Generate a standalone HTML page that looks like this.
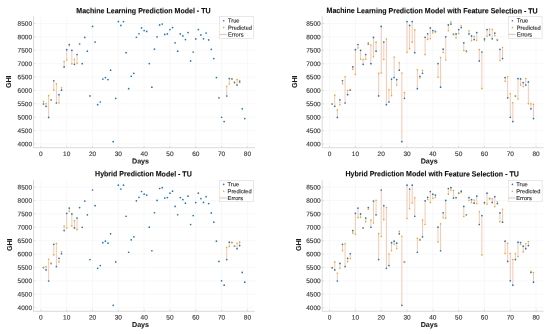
<!DOCTYPE html>
<html><head><meta charset="utf-8"><title>GHI prediction</title>
<style>
html,body{margin:0;padding:0;background:#fff;}
svg{display:block}
text{font-family:"Liberation Sans",sans-serif;text-rendering:geometricPrecision;}
.tk{font-size:6.5px;fill:#3a3a3a;stroke:#3a3a3a;stroke-width:0.14px;}
.tt{font-size:7.05px;font-weight:bold;fill:#111;stroke:#111;stroke-width:0.12px;}
.lb{font-size:7.15px;font-weight:bold;fill:#1c1c1c;stroke:#1c1c1c;stroke-width:0.1px;}
.lg{font-size:5.7px;fill:#2a2a2a;stroke:#2a2a2a;stroke-width:0.12px;}
</style></head><body>
<svg width="550" height="334" viewBox="0 0 550 334">
<rect width="550" height="334" fill="#fff"/>
<line x1="40.90" y1="16.20" x2="40.90" y2="147.70" stroke="#f3f3f3" stroke-width="0.6"/>
<line x1="66.71" y1="16.20" x2="66.71" y2="147.70" stroke="#f3f3f3" stroke-width="0.6"/>
<line x1="92.52" y1="16.20" x2="92.52" y2="147.70" stroke="#f3f3f3" stroke-width="0.6"/>
<line x1="118.33" y1="16.20" x2="118.33" y2="147.70" stroke="#f3f3f3" stroke-width="0.6"/>
<line x1="144.14" y1="16.20" x2="144.14" y2="147.70" stroke="#f3f3f3" stroke-width="0.6"/>
<line x1="169.95" y1="16.20" x2="169.95" y2="147.70" stroke="#f3f3f3" stroke-width="0.6"/>
<line x1="195.76" y1="16.20" x2="195.76" y2="147.70" stroke="#f3f3f3" stroke-width="0.6"/>
<line x1="221.57" y1="16.20" x2="221.57" y2="147.70" stroke="#f3f3f3" stroke-width="0.6"/>
<line x1="247.38" y1="16.20" x2="247.38" y2="147.70" stroke="#f3f3f3" stroke-width="0.6"/>
<line x1="33.50" y1="144.01" x2="254.90" y2="144.01" stroke="#f3f3f3" stroke-width="0.6"/>
<line x1="33.50" y1="130.62" x2="254.90" y2="130.62" stroke="#f3f3f3" stroke-width="0.6"/>
<line x1="33.50" y1="117.23" x2="254.90" y2="117.23" stroke="#f3f3f3" stroke-width="0.6"/>
<line x1="33.50" y1="103.84" x2="254.90" y2="103.84" stroke="#f3f3f3" stroke-width="0.6"/>
<line x1="33.50" y1="90.45" x2="254.90" y2="90.45" stroke="#f3f3f3" stroke-width="0.6"/>
<line x1="33.50" y1="77.06" x2="254.90" y2="77.06" stroke="#f3f3f3" stroke-width="0.6"/>
<line x1="33.50" y1="63.67" x2="254.90" y2="63.67" stroke="#f3f3f3" stroke-width="0.6"/>
<line x1="33.50" y1="50.28" x2="254.90" y2="50.28" stroke="#f3f3f3" stroke-width="0.6"/>
<line x1="33.50" y1="36.89" x2="254.90" y2="36.89" stroke="#f3f3f3" stroke-width="0.6"/>
<line x1="33.50" y1="23.50" x2="254.90" y2="23.50" stroke="#f3f3f3" stroke-width="0.6"/>
<path d="M33.50 16.20V147.70H254.90" fill="none" stroke="#cbcbcb" stroke-width="0.7"/>
<line x1="40.90" y1="147.70" x2="40.90" y2="145.90" stroke="#cbcbcb" stroke-width="0.6"/>
<text transform="translate(40.90,156.00) rotate(0.1)" text-anchor="middle" class="tk">0</text>
<line x1="66.71" y1="147.70" x2="66.71" y2="145.90" stroke="#cbcbcb" stroke-width="0.6"/>
<text transform="translate(66.71,156.00) rotate(0.1)" text-anchor="middle" class="tk">10</text>
<line x1="92.52" y1="147.70" x2="92.52" y2="145.90" stroke="#cbcbcb" stroke-width="0.6"/>
<text transform="translate(92.52,156.00) rotate(0.1)" text-anchor="middle" class="tk">20</text>
<line x1="118.33" y1="147.70" x2="118.33" y2="145.90" stroke="#cbcbcb" stroke-width="0.6"/>
<text transform="translate(118.33,156.00) rotate(0.1)" text-anchor="middle" class="tk">30</text>
<line x1="144.14" y1="147.70" x2="144.14" y2="145.90" stroke="#cbcbcb" stroke-width="0.6"/>
<text transform="translate(144.14,156.00) rotate(0.1)" text-anchor="middle" class="tk">40</text>
<line x1="169.95" y1="147.70" x2="169.95" y2="145.90" stroke="#cbcbcb" stroke-width="0.6"/>
<text transform="translate(169.95,156.00) rotate(0.1)" text-anchor="middle" class="tk">50</text>
<line x1="195.76" y1="147.70" x2="195.76" y2="145.90" stroke="#cbcbcb" stroke-width="0.6"/>
<text transform="translate(195.76,156.00) rotate(0.1)" text-anchor="middle" class="tk">60</text>
<line x1="221.57" y1="147.70" x2="221.57" y2="145.90" stroke="#cbcbcb" stroke-width="0.6"/>
<text transform="translate(221.57,156.00) rotate(0.1)" text-anchor="middle" class="tk">70</text>
<line x1="247.38" y1="147.70" x2="247.38" y2="145.90" stroke="#cbcbcb" stroke-width="0.6"/>
<text transform="translate(247.38,156.00) rotate(0.1)" text-anchor="middle" class="tk">80</text>
<line x1="33.50" y1="144.01" x2="35.30" y2="144.01" stroke="#cbcbcb" stroke-width="0.6"/>
<text transform="translate(32.00,146.31) rotate(0.1)" text-anchor="end" class="tk">4000</text>
<line x1="33.50" y1="130.62" x2="35.30" y2="130.62" stroke="#cbcbcb" stroke-width="0.6"/>
<text transform="translate(32.00,132.92) rotate(0.1)" text-anchor="end" class="tk">4500</text>
<line x1="33.50" y1="117.23" x2="35.30" y2="117.23" stroke="#cbcbcb" stroke-width="0.6"/>
<text transform="translate(32.00,119.53) rotate(0.1)" text-anchor="end" class="tk">5000</text>
<line x1="33.50" y1="103.84" x2="35.30" y2="103.84" stroke="#cbcbcb" stroke-width="0.6"/>
<text transform="translate(32.00,106.14) rotate(0.1)" text-anchor="end" class="tk">5500</text>
<line x1="33.50" y1="90.45" x2="35.30" y2="90.45" stroke="#cbcbcb" stroke-width="0.6"/>
<text transform="translate(32.00,92.75) rotate(0.1)" text-anchor="end" class="tk">6000</text>
<line x1="33.50" y1="77.06" x2="35.30" y2="77.06" stroke="#cbcbcb" stroke-width="0.6"/>
<text transform="translate(32.00,79.36) rotate(0.1)" text-anchor="end" class="tk">6500</text>
<line x1="33.50" y1="63.67" x2="35.30" y2="63.67" stroke="#cbcbcb" stroke-width="0.6"/>
<text transform="translate(32.00,65.97) rotate(0.1)" text-anchor="end" class="tk">7000</text>
<line x1="33.50" y1="50.28" x2="35.30" y2="50.28" stroke="#cbcbcb" stroke-width="0.6"/>
<text transform="translate(32.00,52.58) rotate(0.1)" text-anchor="end" class="tk">7500</text>
<line x1="33.50" y1="36.89" x2="35.30" y2="36.89" stroke="#cbcbcb" stroke-width="0.6"/>
<text transform="translate(32.00,39.19) rotate(0.1)" text-anchor="end" class="tk">8000</text>
<line x1="33.50" y1="23.50" x2="35.30" y2="23.50" stroke="#cbcbcb" stroke-width="0.6"/>
<text transform="translate(32.00,25.80) rotate(0.1)" text-anchor="end" class="tk">8500</text>
<line x1="43.48" y1="104.00" x2="43.48" y2="101.48" stroke="#f6c8b3" stroke-width="1"/>
<line x1="46.06" y1="106.36" x2="46.06" y2="103.49" stroke="#f6c8b3" stroke-width="1"/>
<line x1="48.64" y1="117.39" x2="48.64" y2="95.65" stroke="#f6c8b3" stroke-width="1"/>
<line x1="51.22" y1="99.82" x2="51.22" y2="100.09" stroke="#f6c8b3" stroke-width="1"/>
<line x1="53.80" y1="80.76" x2="53.80" y2="90.13" stroke="#f6c8b3" stroke-width="1"/>
<line x1="56.39" y1="103.01" x2="56.39" y2="83.75" stroke="#f6c8b3" stroke-width="1"/>
<line x1="58.97" y1="94.63" x2="58.97" y2="103.01" stroke="#f6c8b3" stroke-width="1"/>
<line x1="61.55" y1="90.13" x2="61.55" y2="87.77" stroke="#f6c8b3" stroke-width="1"/>
<line x1="64.13" y1="66.94" x2="64.13" y2="61.61" stroke="#f6c8b3" stroke-width="1"/>
<line x1="66.71" y1="49.69" x2="66.71" y2="60.00" stroke="#f6c8b3" stroke-width="1"/>
<line x1="69.29" y1="44.50" x2="69.29" y2="45.81" stroke="#f6c8b3" stroke-width="1"/>
<line x1="71.87" y1="50.31" x2="71.87" y2="63.91" stroke="#f6c8b3" stroke-width="1"/>
<line x1="74.45" y1="64.34" x2="74.45" y2="59.20" stroke="#f6c8b3" stroke-width="1"/>
<line x1="77.03" y1="54.51" x2="77.03" y2="63.40" stroke="#f6c8b3" stroke-width="1"/>
<line x1="226.73" y1="95.99" x2="226.73" y2="86.27" stroke="#f6c8b3" stroke-width="1"/>
<line x1="229.31" y1="78.59" x2="229.31" y2="83.94" stroke="#f6c8b3" stroke-width="1"/>
<line x1="231.89" y1="78.91" x2="231.89" y2="79.42" stroke="#f6c8b3" stroke-width="1"/>
<line x1="234.47" y1="82.60" x2="234.47" y2="81.75" stroke="#f6c8b3" stroke-width="1"/>
<line x1="237.06" y1="85.12" x2="237.06" y2="79.58" stroke="#f6c8b3" stroke-width="1"/>
<line x1="239.64" y1="81.93" x2="239.64" y2="80.43" stroke="#f6c8b3" stroke-width="1"/>
<circle cx="43.48" cy="104.00" r="0.85" fill="#1877c9"/>
<circle cx="46.06" cy="106.36" r="0.85" fill="#1877c9"/>
<circle cx="48.64" cy="117.39" r="0.85" fill="#1877c9"/>
<circle cx="51.22" cy="99.82" r="0.85" fill="#1877c9"/>
<circle cx="53.80" cy="80.76" r="0.85" fill="#1877c9"/>
<circle cx="56.39" cy="103.01" r="0.85" fill="#1877c9"/>
<circle cx="58.97" cy="94.63" r="0.85" fill="#1877c9"/>
<circle cx="61.55" cy="90.13" r="0.85" fill="#1877c9"/>
<circle cx="64.13" cy="66.94" r="0.85" fill="#1877c9"/>
<circle cx="66.71" cy="49.69" r="0.85" fill="#1877c9"/>
<circle cx="69.29" cy="44.50" r="0.85" fill="#1877c9"/>
<circle cx="71.87" cy="50.31" r="0.85" fill="#1877c9"/>
<circle cx="74.45" cy="64.34" r="0.85" fill="#1877c9"/>
<circle cx="77.03" cy="54.51" r="0.85" fill="#1877c9"/>
<circle cx="79.61" cy="43.99" r="0.85" fill="#1877c9"/>
<circle cx="82.20" cy="63.67" r="0.85" fill="#1877c9"/>
<circle cx="84.78" cy="37.45" r="0.85" fill="#1877c9"/>
<circle cx="87.36" cy="51.19" r="0.85" fill="#1877c9"/>
<circle cx="89.94" cy="95.97" r="0.85" fill="#1877c9"/>
<circle cx="92.52" cy="26.39" r="0.85" fill="#1877c9"/>
<circle cx="95.10" cy="42.11" r="0.85" fill="#1877c9"/>
<circle cx="97.68" cy="104.67" r="0.85" fill="#1877c9"/>
<circle cx="100.26" cy="101.99" r="0.85" fill="#1877c9"/>
<circle cx="102.84" cy="79.07" r="0.85" fill="#1877c9"/>
<circle cx="105.43" cy="77.57" r="0.85" fill="#1877c9"/>
<circle cx="108.01" cy="79.58" r="0.85" fill="#1877c9"/>
<circle cx="110.59" cy="70.20" r="0.85" fill="#1877c9"/>
<circle cx="113.17" cy="141.68" r="0.85" fill="#1877c9"/>
<circle cx="115.75" cy="98.32" r="0.85" fill="#1877c9"/>
<circle cx="118.33" cy="21.55" r="0.85" fill="#1877c9"/>
<circle cx="120.91" cy="25.40" r="0.85" fill="#1877c9"/>
<circle cx="123.49" cy="21.55" r="0.85" fill="#1877c9"/>
<circle cx="126.07" cy="52.66" r="0.85" fill="#1877c9"/>
<circle cx="128.65" cy="88.63" r="0.85" fill="#1877c9"/>
<circle cx="131.23" cy="76.23" r="0.85" fill="#1877c9"/>
<circle cx="133.82" cy="73.23" r="0.85" fill="#1877c9"/>
<circle cx="136.40" cy="37.26" r="0.85" fill="#1877c9"/>
<circle cx="138.98" cy="33.76" r="0.85" fill="#1877c9"/>
<circle cx="141.56" cy="27.89" r="0.85" fill="#1877c9"/>
<circle cx="144.14" cy="30.57" r="0.85" fill="#1877c9"/>
<circle cx="146.72" cy="31.43" r="0.85" fill="#1877c9"/>
<circle cx="149.30" cy="63.54" r="0.85" fill="#1877c9"/>
<circle cx="151.88" cy="87.13" r="0.85" fill="#1877c9"/>
<circle cx="154.46" cy="49.16" r="0.85" fill="#1877c9"/>
<circle cx="157.04" cy="36.78" r="0.85" fill="#1877c9"/>
<circle cx="159.63" cy="24.89" r="0.85" fill="#1877c9"/>
<circle cx="162.21" cy="24.06" r="0.85" fill="#1877c9"/>
<circle cx="164.79" cy="34.43" r="0.85" fill="#1877c9"/>
<circle cx="167.37" cy="33.94" r="0.85" fill="#1877c9"/>
<circle cx="169.95" cy="29.58" r="0.85" fill="#1877c9"/>
<circle cx="172.53" cy="27.57" r="0.85" fill="#1877c9"/>
<circle cx="175.11" cy="42.81" r="0.85" fill="#1877c9"/>
<circle cx="177.69" cy="51.16" r="0.85" fill="#1877c9"/>
<circle cx="180.27" cy="33.94" r="0.85" fill="#1877c9"/>
<circle cx="182.85" cy="35.93" r="0.85" fill="#1877c9"/>
<circle cx="185.44" cy="39.62" r="0.85" fill="#1877c9"/>
<circle cx="188.02" cy="32.58" r="0.85" fill="#1877c9"/>
<circle cx="190.60" cy="60.88" r="0.85" fill="#1877c9"/>
<circle cx="193.18" cy="51.99" r="0.85" fill="#1877c9"/>
<circle cx="195.76" cy="38.95" r="0.85" fill="#1877c9"/>
<circle cx="198.34" cy="29.58" r="0.85" fill="#1877c9"/>
<circle cx="200.92" cy="34.94" r="0.85" fill="#1877c9"/>
<circle cx="203.50" cy="38.79" r="0.85" fill="#1877c9"/>
<circle cx="206.08" cy="33.09" r="0.85" fill="#1877c9"/>
<circle cx="208.66" cy="39.94" r="0.85" fill="#1877c9"/>
<circle cx="211.25" cy="49.32" r="0.85" fill="#1877c9"/>
<circle cx="213.83" cy="58.53" r="0.85" fill="#1877c9"/>
<circle cx="216.41" cy="77.57" r="0.85" fill="#1877c9"/>
<circle cx="218.99" cy="97.84" r="0.85" fill="#1877c9"/>
<circle cx="221.57" cy="117.26" r="0.85" fill="#1877c9"/>
<circle cx="224.15" cy="121.62" r="0.85" fill="#1877c9"/>
<circle cx="226.73" cy="95.99" r="0.85" fill="#1877c9"/>
<circle cx="229.31" cy="78.59" r="0.85" fill="#1877c9"/>
<circle cx="231.89" cy="78.91" r="0.85" fill="#1877c9"/>
<circle cx="234.47" cy="82.60" r="0.85" fill="#1877c9"/>
<circle cx="237.06" cy="85.12" r="0.85" fill="#1877c9"/>
<circle cx="239.64" cy="81.93" r="0.85" fill="#1877c9"/>
<circle cx="242.22" cy="108.79" r="0.85" fill="#1877c9"/>
<circle cx="244.80" cy="118.60" r="0.85" fill="#1877c9"/>
<circle cx="43.48" cy="101.48" r="0.8" fill="#f0a51e"/>
<circle cx="46.06" cy="103.49" r="0.8" fill="#f0a51e"/>
<circle cx="48.64" cy="95.65" r="0.8" fill="#f0a51e"/>
<circle cx="51.22" cy="100.09" r="0.8" fill="#f0a51e"/>
<circle cx="53.80" cy="90.13" r="0.8" fill="#f0a51e"/>
<circle cx="56.39" cy="83.75" r="0.8" fill="#f0a51e"/>
<circle cx="58.97" cy="103.01" r="0.8" fill="#f0a51e"/>
<circle cx="61.55" cy="87.77" r="0.8" fill="#f0a51e"/>
<circle cx="64.13" cy="61.61" r="0.8" fill="#f0a51e"/>
<circle cx="66.71" cy="60.00" r="0.8" fill="#f0a51e"/>
<circle cx="69.29" cy="45.81" r="0.8" fill="#f0a51e"/>
<circle cx="71.87" cy="63.91" r="0.8" fill="#f0a51e"/>
<circle cx="74.45" cy="59.20" r="0.8" fill="#f0a51e"/>
<circle cx="77.03" cy="63.40" r="0.8" fill="#f0a51e"/>
<circle cx="226.73" cy="86.27" r="0.8" fill="#f0a51e"/>
<circle cx="229.31" cy="83.94" r="0.8" fill="#f0a51e"/>
<circle cx="231.89" cy="79.42" r="0.8" fill="#f0a51e"/>
<circle cx="234.47" cy="81.75" r="0.8" fill="#f0a51e"/>
<circle cx="237.06" cy="79.58" r="0.8" fill="#f0a51e"/>
<circle cx="239.64" cy="80.43" r="0.8" fill="#f0a51e"/>
<text transform="translate(143.40,13.25) rotate(0.1) scale(1,1.07)" text-anchor="middle" class="tt">Machine Learning Prediction Model - TU</text>
<text transform="translate(140.50,163.60) rotate(0.1)" text-anchor="middle" class="lb">Days</text>
<text transform="translate(10.50,81.75) rotate(-90)" text-anchor="middle" class="lb">GHI</text>
<rect x="219.60" y="16.40" width="33.80" height="22.20" fill="#fff" stroke="#d9d9d9" stroke-width="0.6"/>
<circle cx="223.70" cy="20.80" r="0.8" fill="#1877c9"/>
<circle cx="223.70" cy="27.60" r="0.8" fill="#f0a51e"/>
<line x1="219.90" y1="34.40" x2="226.70" y2="34.40" stroke="#f0a898" stroke-width="0.8"/>
<text transform="translate(228.00,22.60) rotate(0.1)" class="lg">True</text>
<text transform="translate(228.00,29.70) rotate(0.1)" class="lg">Predicted</text>
<text transform="translate(228.00,36.50) rotate(0.1)" class="lg">Errors</text>
<line x1="329.60" y1="16.20" x2="329.60" y2="147.70" stroke="#f3f3f3" stroke-width="0.6"/>
<line x1="355.41" y1="16.20" x2="355.41" y2="147.70" stroke="#f3f3f3" stroke-width="0.6"/>
<line x1="381.22" y1="16.20" x2="381.22" y2="147.70" stroke="#f3f3f3" stroke-width="0.6"/>
<line x1="407.03" y1="16.20" x2="407.03" y2="147.70" stroke="#f3f3f3" stroke-width="0.6"/>
<line x1="432.84" y1="16.20" x2="432.84" y2="147.70" stroke="#f3f3f3" stroke-width="0.6"/>
<line x1="458.65" y1="16.20" x2="458.65" y2="147.70" stroke="#f3f3f3" stroke-width="0.6"/>
<line x1="484.46" y1="16.20" x2="484.46" y2="147.70" stroke="#f3f3f3" stroke-width="0.6"/>
<line x1="510.27" y1="16.20" x2="510.27" y2="147.70" stroke="#f3f3f3" stroke-width="0.6"/>
<line x1="536.08" y1="16.20" x2="536.08" y2="147.70" stroke="#f3f3f3" stroke-width="0.6"/>
<line x1="322.20" y1="144.01" x2="543.60" y2="144.01" stroke="#f3f3f3" stroke-width="0.6"/>
<line x1="322.20" y1="130.62" x2="543.60" y2="130.62" stroke="#f3f3f3" stroke-width="0.6"/>
<line x1="322.20" y1="117.23" x2="543.60" y2="117.23" stroke="#f3f3f3" stroke-width="0.6"/>
<line x1="322.20" y1="103.84" x2="543.60" y2="103.84" stroke="#f3f3f3" stroke-width="0.6"/>
<line x1="322.20" y1="90.45" x2="543.60" y2="90.45" stroke="#f3f3f3" stroke-width="0.6"/>
<line x1="322.20" y1="77.06" x2="543.60" y2="77.06" stroke="#f3f3f3" stroke-width="0.6"/>
<line x1="322.20" y1="63.67" x2="543.60" y2="63.67" stroke="#f3f3f3" stroke-width="0.6"/>
<line x1="322.20" y1="50.28" x2="543.60" y2="50.28" stroke="#f3f3f3" stroke-width="0.6"/>
<line x1="322.20" y1="36.89" x2="543.60" y2="36.89" stroke="#f3f3f3" stroke-width="0.6"/>
<line x1="322.20" y1="23.50" x2="543.60" y2="23.50" stroke="#f3f3f3" stroke-width="0.6"/>
<path d="M322.20 16.20V147.70H543.60" fill="none" stroke="#cbcbcb" stroke-width="0.7"/>
<line x1="329.60" y1="147.70" x2="329.60" y2="145.90" stroke="#cbcbcb" stroke-width="0.6"/>
<text transform="translate(329.60,156.00) rotate(0.1)" text-anchor="middle" class="tk">0</text>
<line x1="355.41" y1="147.70" x2="355.41" y2="145.90" stroke="#cbcbcb" stroke-width="0.6"/>
<text transform="translate(355.41,156.00) rotate(0.1)" text-anchor="middle" class="tk">10</text>
<line x1="381.22" y1="147.70" x2="381.22" y2="145.90" stroke="#cbcbcb" stroke-width="0.6"/>
<text transform="translate(381.22,156.00) rotate(0.1)" text-anchor="middle" class="tk">20</text>
<line x1="407.03" y1="147.70" x2="407.03" y2="145.90" stroke="#cbcbcb" stroke-width="0.6"/>
<text transform="translate(407.03,156.00) rotate(0.1)" text-anchor="middle" class="tk">30</text>
<line x1="432.84" y1="147.70" x2="432.84" y2="145.90" stroke="#cbcbcb" stroke-width="0.6"/>
<text transform="translate(432.84,156.00) rotate(0.1)" text-anchor="middle" class="tk">40</text>
<line x1="458.65" y1="147.70" x2="458.65" y2="145.90" stroke="#cbcbcb" stroke-width="0.6"/>
<text transform="translate(458.65,156.00) rotate(0.1)" text-anchor="middle" class="tk">50</text>
<line x1="484.46" y1="147.70" x2="484.46" y2="145.90" stroke="#cbcbcb" stroke-width="0.6"/>
<text transform="translate(484.46,156.00) rotate(0.1)" text-anchor="middle" class="tk">60</text>
<line x1="510.27" y1="147.70" x2="510.27" y2="145.90" stroke="#cbcbcb" stroke-width="0.6"/>
<text transform="translate(510.27,156.00) rotate(0.1)" text-anchor="middle" class="tk">70</text>
<line x1="536.08" y1="147.70" x2="536.08" y2="145.90" stroke="#cbcbcb" stroke-width="0.6"/>
<text transform="translate(536.08,156.00) rotate(0.1)" text-anchor="middle" class="tk">80</text>
<line x1="322.20" y1="144.01" x2="324.00" y2="144.01" stroke="#cbcbcb" stroke-width="0.6"/>
<text transform="translate(320.70,146.31) rotate(0.1)" text-anchor="end" class="tk">4000</text>
<line x1="322.20" y1="130.62" x2="324.00" y2="130.62" stroke="#cbcbcb" stroke-width="0.6"/>
<text transform="translate(320.70,132.92) rotate(0.1)" text-anchor="end" class="tk">4500</text>
<line x1="322.20" y1="117.23" x2="324.00" y2="117.23" stroke="#cbcbcb" stroke-width="0.6"/>
<text transform="translate(320.70,119.53) rotate(0.1)" text-anchor="end" class="tk">5000</text>
<line x1="322.20" y1="103.84" x2="324.00" y2="103.84" stroke="#cbcbcb" stroke-width="0.6"/>
<text transform="translate(320.70,106.14) rotate(0.1)" text-anchor="end" class="tk">5500</text>
<line x1="322.20" y1="90.45" x2="324.00" y2="90.45" stroke="#cbcbcb" stroke-width="0.6"/>
<text transform="translate(320.70,92.75) rotate(0.1)" text-anchor="end" class="tk">6000</text>
<line x1="322.20" y1="77.06" x2="324.00" y2="77.06" stroke="#cbcbcb" stroke-width="0.6"/>
<text transform="translate(320.70,79.36) rotate(0.1)" text-anchor="end" class="tk">6500</text>
<line x1="322.20" y1="63.67" x2="324.00" y2="63.67" stroke="#cbcbcb" stroke-width="0.6"/>
<text transform="translate(320.70,65.97) rotate(0.1)" text-anchor="end" class="tk">7000</text>
<line x1="322.20" y1="50.28" x2="324.00" y2="50.28" stroke="#cbcbcb" stroke-width="0.6"/>
<text transform="translate(320.70,52.58) rotate(0.1)" text-anchor="end" class="tk">7500</text>
<line x1="322.20" y1="36.89" x2="324.00" y2="36.89" stroke="#cbcbcb" stroke-width="0.6"/>
<text transform="translate(320.70,39.19) rotate(0.1)" text-anchor="end" class="tk">8000</text>
<line x1="322.20" y1="23.50" x2="324.00" y2="23.50" stroke="#cbcbcb" stroke-width="0.6"/>
<text transform="translate(320.70,25.80) rotate(0.1)" text-anchor="end" class="tk">8500</text>
<line x1="332.18" y1="104.00" x2="332.18" y2="103.84" stroke="#f6c8b3" stroke-width="1"/>
<line x1="334.76" y1="106.36" x2="334.76" y2="95.16" stroke="#f6c8b3" stroke-width="1"/>
<line x1="337.34" y1="117.39" x2="337.34" y2="109.89" stroke="#f6c8b3" stroke-width="1"/>
<line x1="339.92" y1="99.82" x2="339.92" y2="104.86" stroke="#f6c8b3" stroke-width="1"/>
<line x1="342.50" y1="80.76" x2="342.50" y2="83.78" stroke="#f6c8b3" stroke-width="1"/>
<line x1="345.09" y1="103.01" x2="345.09" y2="76.74" stroke="#f6c8b3" stroke-width="1"/>
<line x1="347.67" y1="94.63" x2="347.67" y2="90.48" stroke="#f6c8b3" stroke-width="1"/>
<line x1="350.25" y1="90.13" x2="350.25" y2="89.65" stroke="#f6c8b3" stroke-width="1"/>
<line x1="352.83" y1="66.94" x2="352.83" y2="69.56" stroke="#f6c8b3" stroke-width="1"/>
<line x1="355.41" y1="49.69" x2="355.41" y2="74.41" stroke="#f6c8b3" stroke-width="1"/>
<line x1="357.99" y1="44.50" x2="357.99" y2="47.98" stroke="#f6c8b3" stroke-width="1"/>
<line x1="360.57" y1="50.31" x2="360.57" y2="59.20" stroke="#f6c8b3" stroke-width="1"/>
<line x1="363.15" y1="64.34" x2="363.15" y2="59.55" stroke="#f6c8b3" stroke-width="1"/>
<line x1="365.73" y1="54.51" x2="365.73" y2="59.20" stroke="#f6c8b3" stroke-width="1"/>
<line x1="368.31" y1="43.99" x2="368.31" y2="42.81" stroke="#f6c8b3" stroke-width="1"/>
<line x1="370.90" y1="63.67" x2="370.90" y2="44.98" stroke="#f6c8b3" stroke-width="1"/>
<line x1="373.48" y1="37.45" x2="373.48" y2="56.71" stroke="#f6c8b3" stroke-width="1"/>
<line x1="376.06" y1="51.19" x2="376.06" y2="42.14" stroke="#f6c8b3" stroke-width="1"/>
<line x1="378.64" y1="95.97" x2="378.64" y2="73.39" stroke="#f6c8b3" stroke-width="1"/>
<line x1="381.22" y1="26.39" x2="381.22" y2="73.07" stroke="#f6c8b3" stroke-width="1"/>
<line x1="383.80" y1="42.11" x2="383.80" y2="59.55" stroke="#f6c8b3" stroke-width="1"/>
<line x1="386.38" y1="104.67" x2="386.38" y2="39.11" stroke="#f6c8b3" stroke-width="1"/>
<line x1="388.96" y1="101.99" x2="388.96" y2="89.81" stroke="#f6c8b3" stroke-width="1"/>
<line x1="391.54" y1="79.07" x2="391.54" y2="95.65" stroke="#f6c8b3" stroke-width="1"/>
<line x1="394.12" y1="77.57" x2="394.12" y2="57.03" stroke="#f6c8b3" stroke-width="1"/>
<line x1="396.71" y1="79.58" x2="396.71" y2="85.12" stroke="#f6c8b3" stroke-width="1"/>
<line x1="399.29" y1="70.20" x2="399.29" y2="62.71" stroke="#f6c8b3" stroke-width="1"/>
<line x1="401.87" y1="141.68" x2="401.87" y2="73.07" stroke="#f6c8b3" stroke-width="1"/>
<line x1="404.45" y1="98.32" x2="404.45" y2="92.65" stroke="#f6c8b3" stroke-width="1"/>
<line x1="407.03" y1="21.55" x2="407.03" y2="52.34" stroke="#f6c8b3" stroke-width="1"/>
<line x1="409.61" y1="25.40" x2="409.61" y2="48.65" stroke="#f6c8b3" stroke-width="1"/>
<line x1="412.19" y1="21.55" x2="412.19" y2="42.14" stroke="#f6c8b3" stroke-width="1"/>
<line x1="414.77" y1="52.66" x2="414.77" y2="29.90" stroke="#f6c8b3" stroke-width="1"/>
<line x1="417.35" y1="88.63" x2="417.35" y2="69.83" stroke="#f6c8b3" stroke-width="1"/>
<line x1="419.93" y1="76.23" x2="419.93" y2="77.92" stroke="#f6c8b3" stroke-width="1"/>
<line x1="422.52" y1="73.23" x2="422.52" y2="70.39" stroke="#f6c8b3" stroke-width="1"/>
<line x1="425.10" y1="37.26" x2="425.10" y2="54.67" stroke="#f6c8b3" stroke-width="1"/>
<line x1="427.68" y1="33.76" x2="427.68" y2="39.46" stroke="#f6c8b3" stroke-width="1"/>
<line x1="430.26" y1="27.89" x2="430.26" y2="38.79" stroke="#f6c8b3" stroke-width="1"/>
<line x1="432.84" y1="30.57" x2="432.84" y2="32.93" stroke="#f6c8b3" stroke-width="1"/>
<line x1="435.42" y1="31.43" x2="435.42" y2="32.10" stroke="#f6c8b3" stroke-width="1"/>
<line x1="438.00" y1="63.54" x2="438.00" y2="77.25" stroke="#f6c8b3" stroke-width="1"/>
<line x1="440.58" y1="87.13" x2="440.58" y2="57.54" stroke="#f6c8b3" stroke-width="1"/>
<line x1="443.16" y1="49.16" x2="443.16" y2="52.50" stroke="#f6c8b3" stroke-width="1"/>
<line x1="445.74" y1="36.78" x2="445.74" y2="60.03" stroke="#f6c8b3" stroke-width="1"/>
<line x1="448.33" y1="24.89" x2="448.33" y2="30.76" stroke="#f6c8b3" stroke-width="1"/>
<line x1="450.91" y1="24.06" x2="450.91" y2="21.87" stroke="#f6c8b3" stroke-width="1"/>
<line x1="453.49" y1="34.43" x2="453.49" y2="34.10" stroke="#f6c8b3" stroke-width="1"/>
<line x1="456.07" y1="33.94" x2="456.07" y2="37.93" stroke="#f6c8b3" stroke-width="1"/>
<line x1="458.65" y1="29.58" x2="458.65" y2="33.60" stroke="#f6c8b3" stroke-width="1"/>
<line x1="461.23" y1="27.57" x2="461.23" y2="25.72" stroke="#f6c8b3" stroke-width="1"/>
<line x1="463.81" y1="42.81" x2="463.81" y2="50.49" stroke="#f6c8b3" stroke-width="1"/>
<line x1="466.39" y1="51.16" x2="466.39" y2="51.83" stroke="#f6c8b3" stroke-width="1"/>
<line x1="468.97" y1="33.94" x2="468.97" y2="30.76" stroke="#f6c8b3" stroke-width="1"/>
<line x1="471.55" y1="35.93" x2="471.55" y2="40.80" stroke="#f6c8b3" stroke-width="1"/>
<line x1="474.14" y1="39.62" x2="474.14" y2="36.60" stroke="#f6c8b3" stroke-width="1"/>
<line x1="476.72" y1="32.58" x2="476.72" y2="40.29" stroke="#f6c8b3" stroke-width="1"/>
<line x1="479.30" y1="60.88" x2="479.30" y2="49.66" stroke="#f6c8b3" stroke-width="1"/>
<line x1="481.88" y1="51.99" x2="481.88" y2="88.63" stroke="#f6c8b3" stroke-width="1"/>
<line x1="484.46" y1="38.95" x2="484.46" y2="40.80" stroke="#f6c8b3" stroke-width="1"/>
<line x1="487.04" y1="29.58" x2="487.04" y2="36.27" stroke="#f6c8b3" stroke-width="1"/>
<line x1="489.62" y1="34.94" x2="489.62" y2="29.07" stroke="#f6c8b3" stroke-width="1"/>
<line x1="492.20" y1="38.79" x2="492.20" y2="29.58" stroke="#f6c8b3" stroke-width="1"/>
<line x1="494.78" y1="33.09" x2="494.78" y2="35.77" stroke="#f6c8b3" stroke-width="1"/>
<line x1="497.36" y1="39.94" x2="497.36" y2="39.46" stroke="#f6c8b3" stroke-width="1"/>
<line x1="499.95" y1="49.32" x2="499.95" y2="60.54" stroke="#f6c8b3" stroke-width="1"/>
<line x1="502.53" y1="58.53" x2="502.53" y2="47.49" stroke="#f6c8b3" stroke-width="1"/>
<line x1="505.11" y1="77.57" x2="505.11" y2="81.26" stroke="#f6c8b3" stroke-width="1"/>
<line x1="507.69" y1="97.84" x2="507.69" y2="76.74" stroke="#f6c8b3" stroke-width="1"/>
<line x1="510.27" y1="117.26" x2="510.27" y2="93.82" stroke="#f6c8b3" stroke-width="1"/>
<line x1="512.85" y1="121.62" x2="512.85" y2="102.69" stroke="#f6c8b3" stroke-width="1"/>
<line x1="515.43" y1="95.99" x2="515.43" y2="95.81" stroke="#f6c8b3" stroke-width="1"/>
<line x1="518.01" y1="78.59" x2="518.01" y2="98.99" stroke="#f6c8b3" stroke-width="1"/>
<line x1="520.59" y1="78.91" x2="520.59" y2="85.12" stroke="#f6c8b3" stroke-width="1"/>
<line x1="523.17" y1="82.60" x2="523.17" y2="86.78" stroke="#f6c8b3" stroke-width="1"/>
<line x1="525.76" y1="85.12" x2="525.76" y2="78.43" stroke="#f6c8b3" stroke-width="1"/>
<line x1="528.34" y1="81.93" x2="528.34" y2="103.87" stroke="#f6c8b3" stroke-width="1"/>
<line x1="530.92" y1="108.79" x2="530.92" y2="103.87" stroke="#f6c8b3" stroke-width="1"/>
<line x1="533.50" y1="118.60" x2="533.50" y2="104.35" stroke="#f6c8b3" stroke-width="1"/>
<circle cx="332.18" cy="104.00" r="0.85" fill="#1877c9"/>
<circle cx="334.76" cy="106.36" r="0.85" fill="#1877c9"/>
<circle cx="337.34" cy="117.39" r="0.85" fill="#1877c9"/>
<circle cx="339.92" cy="99.82" r="0.85" fill="#1877c9"/>
<circle cx="342.50" cy="80.76" r="0.85" fill="#1877c9"/>
<circle cx="345.09" cy="103.01" r="0.85" fill="#1877c9"/>
<circle cx="347.67" cy="94.63" r="0.85" fill="#1877c9"/>
<circle cx="350.25" cy="90.13" r="0.85" fill="#1877c9"/>
<circle cx="352.83" cy="66.94" r="0.85" fill="#1877c9"/>
<circle cx="355.41" cy="49.69" r="0.85" fill="#1877c9"/>
<circle cx="357.99" cy="44.50" r="0.85" fill="#1877c9"/>
<circle cx="360.57" cy="50.31" r="0.85" fill="#1877c9"/>
<circle cx="363.15" cy="64.34" r="0.85" fill="#1877c9"/>
<circle cx="365.73" cy="54.51" r="0.85" fill="#1877c9"/>
<circle cx="368.31" cy="43.99" r="0.85" fill="#1877c9"/>
<circle cx="370.90" cy="63.67" r="0.85" fill="#1877c9"/>
<circle cx="373.48" cy="37.45" r="0.85" fill="#1877c9"/>
<circle cx="376.06" cy="51.19" r="0.85" fill="#1877c9"/>
<circle cx="378.64" cy="95.97" r="0.85" fill="#1877c9"/>
<circle cx="381.22" cy="26.39" r="0.85" fill="#1877c9"/>
<circle cx="383.80" cy="42.11" r="0.85" fill="#1877c9"/>
<circle cx="386.38" cy="104.67" r="0.85" fill="#1877c9"/>
<circle cx="388.96" cy="101.99" r="0.85" fill="#1877c9"/>
<circle cx="391.54" cy="79.07" r="0.85" fill="#1877c9"/>
<circle cx="394.12" cy="77.57" r="0.85" fill="#1877c9"/>
<circle cx="396.71" cy="79.58" r="0.85" fill="#1877c9"/>
<circle cx="399.29" cy="70.20" r="0.85" fill="#1877c9"/>
<circle cx="401.87" cy="141.68" r="0.85" fill="#1877c9"/>
<circle cx="404.45" cy="98.32" r="0.85" fill="#1877c9"/>
<circle cx="407.03" cy="21.55" r="0.85" fill="#1877c9"/>
<circle cx="409.61" cy="25.40" r="0.85" fill="#1877c9"/>
<circle cx="412.19" cy="21.55" r="0.85" fill="#1877c9"/>
<circle cx="414.77" cy="52.66" r="0.85" fill="#1877c9"/>
<circle cx="417.35" cy="88.63" r="0.85" fill="#1877c9"/>
<circle cx="419.93" cy="76.23" r="0.85" fill="#1877c9"/>
<circle cx="422.52" cy="73.23" r="0.85" fill="#1877c9"/>
<circle cx="425.10" cy="37.26" r="0.85" fill="#1877c9"/>
<circle cx="427.68" cy="33.76" r="0.85" fill="#1877c9"/>
<circle cx="430.26" cy="27.89" r="0.85" fill="#1877c9"/>
<circle cx="432.84" cy="30.57" r="0.85" fill="#1877c9"/>
<circle cx="435.42" cy="31.43" r="0.85" fill="#1877c9"/>
<circle cx="438.00" cy="63.54" r="0.85" fill="#1877c9"/>
<circle cx="440.58" cy="87.13" r="0.85" fill="#1877c9"/>
<circle cx="443.16" cy="49.16" r="0.85" fill="#1877c9"/>
<circle cx="445.74" cy="36.78" r="0.85" fill="#1877c9"/>
<circle cx="448.33" cy="24.89" r="0.85" fill="#1877c9"/>
<circle cx="450.91" cy="24.06" r="0.85" fill="#1877c9"/>
<circle cx="453.49" cy="34.43" r="0.85" fill="#1877c9"/>
<circle cx="456.07" cy="33.94" r="0.85" fill="#1877c9"/>
<circle cx="458.65" cy="29.58" r="0.85" fill="#1877c9"/>
<circle cx="461.23" cy="27.57" r="0.85" fill="#1877c9"/>
<circle cx="463.81" cy="42.81" r="0.85" fill="#1877c9"/>
<circle cx="466.39" cy="51.16" r="0.85" fill="#1877c9"/>
<circle cx="468.97" cy="33.94" r="0.85" fill="#1877c9"/>
<circle cx="471.55" cy="35.93" r="0.85" fill="#1877c9"/>
<circle cx="474.14" cy="39.62" r="0.85" fill="#1877c9"/>
<circle cx="476.72" cy="32.58" r="0.85" fill="#1877c9"/>
<circle cx="479.30" cy="60.88" r="0.85" fill="#1877c9"/>
<circle cx="481.88" cy="51.99" r="0.85" fill="#1877c9"/>
<circle cx="484.46" cy="38.95" r="0.85" fill="#1877c9"/>
<circle cx="487.04" cy="29.58" r="0.85" fill="#1877c9"/>
<circle cx="489.62" cy="34.94" r="0.85" fill="#1877c9"/>
<circle cx="492.20" cy="38.79" r="0.85" fill="#1877c9"/>
<circle cx="494.78" cy="33.09" r="0.85" fill="#1877c9"/>
<circle cx="497.36" cy="39.94" r="0.85" fill="#1877c9"/>
<circle cx="499.95" cy="49.32" r="0.85" fill="#1877c9"/>
<circle cx="502.53" cy="58.53" r="0.85" fill="#1877c9"/>
<circle cx="505.11" cy="77.57" r="0.85" fill="#1877c9"/>
<circle cx="507.69" cy="97.84" r="0.85" fill="#1877c9"/>
<circle cx="510.27" cy="117.26" r="0.85" fill="#1877c9"/>
<circle cx="512.85" cy="121.62" r="0.85" fill="#1877c9"/>
<circle cx="515.43" cy="95.99" r="0.85" fill="#1877c9"/>
<circle cx="518.01" cy="78.59" r="0.85" fill="#1877c9"/>
<circle cx="520.59" cy="78.91" r="0.85" fill="#1877c9"/>
<circle cx="523.17" cy="82.60" r="0.85" fill="#1877c9"/>
<circle cx="525.76" cy="85.12" r="0.85" fill="#1877c9"/>
<circle cx="528.34" cy="81.93" r="0.85" fill="#1877c9"/>
<circle cx="530.92" cy="108.79" r="0.85" fill="#1877c9"/>
<circle cx="533.50" cy="118.60" r="0.85" fill="#1877c9"/>
<circle cx="332.18" cy="103.84" r="0.8" fill="#f0a51e"/>
<circle cx="334.76" cy="95.16" r="0.8" fill="#f0a51e"/>
<circle cx="337.34" cy="109.89" r="0.8" fill="#f0a51e"/>
<circle cx="339.92" cy="104.86" r="0.8" fill="#f0a51e"/>
<circle cx="342.50" cy="83.78" r="0.8" fill="#f0a51e"/>
<circle cx="345.09" cy="76.74" r="0.8" fill="#f0a51e"/>
<circle cx="347.67" cy="90.48" r="0.8" fill="#f0a51e"/>
<circle cx="350.25" cy="89.65" r="0.8" fill="#f0a51e"/>
<circle cx="352.83" cy="69.56" r="0.8" fill="#f0a51e"/>
<circle cx="355.41" cy="74.41" r="0.8" fill="#f0a51e"/>
<circle cx="357.99" cy="47.98" r="0.8" fill="#f0a51e"/>
<circle cx="360.57" cy="59.20" r="0.8" fill="#f0a51e"/>
<circle cx="363.15" cy="59.55" r="0.8" fill="#f0a51e"/>
<circle cx="365.73" cy="59.20" r="0.8" fill="#f0a51e"/>
<circle cx="368.31" cy="42.81" r="0.8" fill="#f0a51e"/>
<circle cx="370.90" cy="44.98" r="0.8" fill="#f0a51e"/>
<circle cx="373.48" cy="56.71" r="0.8" fill="#f0a51e"/>
<circle cx="376.06" cy="42.14" r="0.8" fill="#f0a51e"/>
<circle cx="378.64" cy="73.39" r="0.8" fill="#f0a51e"/>
<circle cx="381.22" cy="73.07" r="0.8" fill="#f0a51e"/>
<circle cx="383.80" cy="59.55" r="0.8" fill="#f0a51e"/>
<circle cx="386.38" cy="39.11" r="0.8" fill="#f0a51e"/>
<circle cx="388.96" cy="89.81" r="0.8" fill="#f0a51e"/>
<circle cx="391.54" cy="95.65" r="0.8" fill="#f0a51e"/>
<circle cx="394.12" cy="57.03" r="0.8" fill="#f0a51e"/>
<circle cx="396.71" cy="85.12" r="0.8" fill="#f0a51e"/>
<circle cx="399.29" cy="62.71" r="0.8" fill="#f0a51e"/>
<circle cx="401.87" cy="73.07" r="0.8" fill="#f0a51e"/>
<circle cx="404.45" cy="92.65" r="0.8" fill="#f0a51e"/>
<circle cx="407.03" cy="52.34" r="0.8" fill="#f0a51e"/>
<circle cx="409.61" cy="48.65" r="0.8" fill="#f0a51e"/>
<circle cx="412.19" cy="42.14" r="0.8" fill="#f0a51e"/>
<circle cx="414.77" cy="29.90" r="0.8" fill="#f0a51e"/>
<circle cx="417.35" cy="69.83" r="0.8" fill="#f0a51e"/>
<circle cx="419.93" cy="77.92" r="0.8" fill="#f0a51e"/>
<circle cx="422.52" cy="70.39" r="0.8" fill="#f0a51e"/>
<circle cx="425.10" cy="54.67" r="0.8" fill="#f0a51e"/>
<circle cx="427.68" cy="39.46" r="0.8" fill="#f0a51e"/>
<circle cx="430.26" cy="38.79" r="0.8" fill="#f0a51e"/>
<circle cx="432.84" cy="32.93" r="0.8" fill="#f0a51e"/>
<circle cx="435.42" cy="32.10" r="0.8" fill="#f0a51e"/>
<circle cx="438.00" cy="77.25" r="0.8" fill="#f0a51e"/>
<circle cx="440.58" cy="57.54" r="0.8" fill="#f0a51e"/>
<circle cx="443.16" cy="52.50" r="0.8" fill="#f0a51e"/>
<circle cx="445.74" cy="60.03" r="0.8" fill="#f0a51e"/>
<circle cx="448.33" cy="30.76" r="0.8" fill="#f0a51e"/>
<circle cx="450.91" cy="21.87" r="0.8" fill="#f0a51e"/>
<circle cx="453.49" cy="34.10" r="0.8" fill="#f0a51e"/>
<circle cx="456.07" cy="37.93" r="0.8" fill="#f0a51e"/>
<circle cx="458.65" cy="33.60" r="0.8" fill="#f0a51e"/>
<circle cx="461.23" cy="25.72" r="0.8" fill="#f0a51e"/>
<circle cx="463.81" cy="50.49" r="0.8" fill="#f0a51e"/>
<circle cx="466.39" cy="51.83" r="0.8" fill="#f0a51e"/>
<circle cx="468.97" cy="30.76" r="0.8" fill="#f0a51e"/>
<circle cx="471.55" cy="40.80" r="0.8" fill="#f0a51e"/>
<circle cx="474.14" cy="36.60" r="0.8" fill="#f0a51e"/>
<circle cx="476.72" cy="40.29" r="0.8" fill="#f0a51e"/>
<circle cx="479.30" cy="49.66" r="0.8" fill="#f0a51e"/>
<circle cx="481.88" cy="88.63" r="0.8" fill="#f0a51e"/>
<circle cx="484.46" cy="40.80" r="0.8" fill="#f0a51e"/>
<circle cx="487.04" cy="36.27" r="0.8" fill="#f0a51e"/>
<circle cx="489.62" cy="29.07" r="0.8" fill="#f0a51e"/>
<circle cx="492.20" cy="29.58" r="0.8" fill="#f0a51e"/>
<circle cx="494.78" cy="35.77" r="0.8" fill="#f0a51e"/>
<circle cx="497.36" cy="39.46" r="0.8" fill="#f0a51e"/>
<circle cx="499.95" cy="60.54" r="0.8" fill="#f0a51e"/>
<circle cx="502.53" cy="47.49" r="0.8" fill="#f0a51e"/>
<circle cx="505.11" cy="81.26" r="0.8" fill="#f0a51e"/>
<circle cx="507.69" cy="76.74" r="0.8" fill="#f0a51e"/>
<circle cx="510.27" cy="93.82" r="0.8" fill="#f0a51e"/>
<circle cx="512.85" cy="102.69" r="0.8" fill="#f0a51e"/>
<circle cx="515.43" cy="95.81" r="0.8" fill="#f0a51e"/>
<circle cx="518.01" cy="98.99" r="0.8" fill="#f0a51e"/>
<circle cx="520.59" cy="85.12" r="0.8" fill="#f0a51e"/>
<circle cx="523.17" cy="86.78" r="0.8" fill="#f0a51e"/>
<circle cx="525.76" cy="78.43" r="0.8" fill="#f0a51e"/>
<circle cx="528.34" cy="103.87" r="0.8" fill="#f0a51e"/>
<circle cx="530.92" cy="103.87" r="0.8" fill="#f0a51e"/>
<circle cx="533.50" cy="104.35" r="0.8" fill="#f0a51e"/>
<text transform="translate(432.10,13.25) rotate(0.1) scale(1,1.07)" text-anchor="middle" class="tt">Machine Learning Prediction Model with Feature Selection - TU</text>
<text transform="translate(429.20,163.60) rotate(0.1)" text-anchor="middle" class="lb">Days</text>
<text transform="translate(296.80,81.75) rotate(-90)" text-anchor="middle" class="lb">GHI</text>
<rect x="508.30" y="16.40" width="33.80" height="22.20" fill="#fff" stroke="#d9d9d9" stroke-width="0.6"/>
<circle cx="512.40" cy="20.80" r="0.8" fill="#1877c9"/>
<circle cx="512.40" cy="27.60" r="0.8" fill="#f0a51e"/>
<line x1="508.60" y1="34.40" x2="515.40" y2="34.40" stroke="#f0a898" stroke-width="0.8"/>
<text transform="translate(516.70,22.60) rotate(0.1)" class="lg">True</text>
<text transform="translate(516.70,29.70) rotate(0.1)" class="lg">Predicted</text>
<text transform="translate(516.70,36.50) rotate(0.1)" class="lg">Errors</text>
<line x1="40.90" y1="179.80" x2="40.90" y2="311.30" stroke="#f3f3f3" stroke-width="0.6"/>
<line x1="66.71" y1="179.80" x2="66.71" y2="311.30" stroke="#f3f3f3" stroke-width="0.6"/>
<line x1="92.52" y1="179.80" x2="92.52" y2="311.30" stroke="#f3f3f3" stroke-width="0.6"/>
<line x1="118.33" y1="179.80" x2="118.33" y2="311.30" stroke="#f3f3f3" stroke-width="0.6"/>
<line x1="144.14" y1="179.80" x2="144.14" y2="311.30" stroke="#f3f3f3" stroke-width="0.6"/>
<line x1="169.95" y1="179.80" x2="169.95" y2="311.30" stroke="#f3f3f3" stroke-width="0.6"/>
<line x1="195.76" y1="179.80" x2="195.76" y2="311.30" stroke="#f3f3f3" stroke-width="0.6"/>
<line x1="221.57" y1="179.80" x2="221.57" y2="311.30" stroke="#f3f3f3" stroke-width="0.6"/>
<line x1="247.38" y1="179.80" x2="247.38" y2="311.30" stroke="#f3f3f3" stroke-width="0.6"/>
<line x1="33.50" y1="307.61" x2="254.90" y2="307.61" stroke="#f3f3f3" stroke-width="0.6"/>
<line x1="33.50" y1="294.22" x2="254.90" y2="294.22" stroke="#f3f3f3" stroke-width="0.6"/>
<line x1="33.50" y1="280.83" x2="254.90" y2="280.83" stroke="#f3f3f3" stroke-width="0.6"/>
<line x1="33.50" y1="267.44" x2="254.90" y2="267.44" stroke="#f3f3f3" stroke-width="0.6"/>
<line x1="33.50" y1="254.05" x2="254.90" y2="254.05" stroke="#f3f3f3" stroke-width="0.6"/>
<line x1="33.50" y1="240.66" x2="254.90" y2="240.66" stroke="#f3f3f3" stroke-width="0.6"/>
<line x1="33.50" y1="227.27" x2="254.90" y2="227.27" stroke="#f3f3f3" stroke-width="0.6"/>
<line x1="33.50" y1="213.88" x2="254.90" y2="213.88" stroke="#f3f3f3" stroke-width="0.6"/>
<line x1="33.50" y1="200.49" x2="254.90" y2="200.49" stroke="#f3f3f3" stroke-width="0.6"/>
<line x1="33.50" y1="187.10" x2="254.90" y2="187.10" stroke="#f3f3f3" stroke-width="0.6"/>
<path d="M33.50 179.80V311.30H254.90" fill="none" stroke="#cbcbcb" stroke-width="0.7"/>
<line x1="40.90" y1="311.30" x2="40.90" y2="309.50" stroke="#cbcbcb" stroke-width="0.6"/>
<text transform="translate(40.90,319.60) rotate(0.1)" text-anchor="middle" class="tk">0</text>
<line x1="66.71" y1="311.30" x2="66.71" y2="309.50" stroke="#cbcbcb" stroke-width="0.6"/>
<text transform="translate(66.71,319.60) rotate(0.1)" text-anchor="middle" class="tk">10</text>
<line x1="92.52" y1="311.30" x2="92.52" y2="309.50" stroke="#cbcbcb" stroke-width="0.6"/>
<text transform="translate(92.52,319.60) rotate(0.1)" text-anchor="middle" class="tk">20</text>
<line x1="118.33" y1="311.30" x2="118.33" y2="309.50" stroke="#cbcbcb" stroke-width="0.6"/>
<text transform="translate(118.33,319.60) rotate(0.1)" text-anchor="middle" class="tk">30</text>
<line x1="144.14" y1="311.30" x2="144.14" y2="309.50" stroke="#cbcbcb" stroke-width="0.6"/>
<text transform="translate(144.14,319.60) rotate(0.1)" text-anchor="middle" class="tk">40</text>
<line x1="169.95" y1="311.30" x2="169.95" y2="309.50" stroke="#cbcbcb" stroke-width="0.6"/>
<text transform="translate(169.95,319.60) rotate(0.1)" text-anchor="middle" class="tk">50</text>
<line x1="195.76" y1="311.30" x2="195.76" y2="309.50" stroke="#cbcbcb" stroke-width="0.6"/>
<text transform="translate(195.76,319.60) rotate(0.1)" text-anchor="middle" class="tk">60</text>
<line x1="221.57" y1="311.30" x2="221.57" y2="309.50" stroke="#cbcbcb" stroke-width="0.6"/>
<text transform="translate(221.57,319.60) rotate(0.1)" text-anchor="middle" class="tk">70</text>
<line x1="247.38" y1="311.30" x2="247.38" y2="309.50" stroke="#cbcbcb" stroke-width="0.6"/>
<text transform="translate(247.38,319.60) rotate(0.1)" text-anchor="middle" class="tk">80</text>
<line x1="33.50" y1="307.61" x2="35.30" y2="307.61" stroke="#cbcbcb" stroke-width="0.6"/>
<text transform="translate(32.00,309.91) rotate(0.1)" text-anchor="end" class="tk">4000</text>
<line x1="33.50" y1="294.22" x2="35.30" y2="294.22" stroke="#cbcbcb" stroke-width="0.6"/>
<text transform="translate(32.00,296.52) rotate(0.1)" text-anchor="end" class="tk">4500</text>
<line x1="33.50" y1="280.83" x2="35.30" y2="280.83" stroke="#cbcbcb" stroke-width="0.6"/>
<text transform="translate(32.00,283.13) rotate(0.1)" text-anchor="end" class="tk">5000</text>
<line x1="33.50" y1="267.44" x2="35.30" y2="267.44" stroke="#cbcbcb" stroke-width="0.6"/>
<text transform="translate(32.00,269.74) rotate(0.1)" text-anchor="end" class="tk">5500</text>
<line x1="33.50" y1="254.05" x2="35.30" y2="254.05" stroke="#cbcbcb" stroke-width="0.6"/>
<text transform="translate(32.00,256.35) rotate(0.1)" text-anchor="end" class="tk">6000</text>
<line x1="33.50" y1="240.66" x2="35.30" y2="240.66" stroke="#cbcbcb" stroke-width="0.6"/>
<text transform="translate(32.00,242.96) rotate(0.1)" text-anchor="end" class="tk">6500</text>
<line x1="33.50" y1="227.27" x2="35.30" y2="227.27" stroke="#cbcbcb" stroke-width="0.6"/>
<text transform="translate(32.00,229.57) rotate(0.1)" text-anchor="end" class="tk">7000</text>
<line x1="33.50" y1="213.88" x2="35.30" y2="213.88" stroke="#cbcbcb" stroke-width="0.6"/>
<text transform="translate(32.00,216.18) rotate(0.1)" text-anchor="end" class="tk">7500</text>
<line x1="33.50" y1="200.49" x2="35.30" y2="200.49" stroke="#cbcbcb" stroke-width="0.6"/>
<text transform="translate(32.00,202.79) rotate(0.1)" text-anchor="end" class="tk">8000</text>
<line x1="33.50" y1="187.10" x2="35.30" y2="187.10" stroke="#cbcbcb" stroke-width="0.6"/>
<text transform="translate(32.00,189.40) rotate(0.1)" text-anchor="end" class="tk">8500</text>
<line x1="43.48" y1="267.60" x2="43.48" y2="267.28" stroke="#f6c8b3" stroke-width="1"/>
<line x1="46.06" y1="269.96" x2="46.06" y2="266.61" stroke="#f6c8b3" stroke-width="1"/>
<line x1="48.64" y1="280.99" x2="48.64" y2="259.25" stroke="#f6c8b3" stroke-width="1"/>
<line x1="51.22" y1="263.42" x2="51.22" y2="263.58" stroke="#f6c8b3" stroke-width="1"/>
<line x1="53.80" y1="244.36" x2="53.80" y2="254.88" stroke="#f6c8b3" stroke-width="1"/>
<line x1="56.39" y1="266.61" x2="56.39" y2="243.50" stroke="#f6c8b3" stroke-width="1"/>
<line x1="58.97" y1="258.23" x2="58.97" y2="262.08" stroke="#f6c8b3" stroke-width="1"/>
<line x1="61.55" y1="253.73" x2="61.55" y2="251.88" stroke="#f6c8b3" stroke-width="1"/>
<line x1="64.13" y1="230.54" x2="64.13" y2="226.09" stroke="#f6c8b3" stroke-width="1"/>
<line x1="66.71" y1="213.29" x2="66.71" y2="228.10" stroke="#f6c8b3" stroke-width="1"/>
<line x1="69.29" y1="208.10" x2="69.29" y2="211.36" stroke="#f6c8b3" stroke-width="1"/>
<line x1="71.87" y1="213.91" x2="71.87" y2="226.09" stroke="#f6c8b3" stroke-width="1"/>
<line x1="74.45" y1="227.94" x2="74.45" y2="220.74" stroke="#f6c8b3" stroke-width="1"/>
<line x1="77.03" y1="218.11" x2="77.03" y2="229.63" stroke="#f6c8b3" stroke-width="1"/>
<line x1="226.73" y1="259.59" x2="226.73" y2="247.52" stroke="#f6c8b3" stroke-width="1"/>
<line x1="229.31" y1="242.19" x2="229.31" y2="246.52" stroke="#f6c8b3" stroke-width="1"/>
<line x1="231.89" y1="242.51" x2="231.89" y2="242.51" stroke="#f6c8b3" stroke-width="1"/>
<line x1="234.47" y1="246.20" x2="234.47" y2="246.18" stroke="#f6c8b3" stroke-width="1"/>
<line x1="237.06" y1="248.72" x2="237.06" y2="243.18" stroke="#f6c8b3" stroke-width="1"/>
<line x1="239.64" y1="245.53" x2="239.64" y2="242.16" stroke="#f6c8b3" stroke-width="1"/>
<circle cx="43.48" cy="267.60" r="0.85" fill="#1877c9"/>
<circle cx="46.06" cy="269.96" r="0.85" fill="#1877c9"/>
<circle cx="48.64" cy="280.99" r="0.85" fill="#1877c9"/>
<circle cx="51.22" cy="263.42" r="0.85" fill="#1877c9"/>
<circle cx="53.80" cy="244.36" r="0.85" fill="#1877c9"/>
<circle cx="56.39" cy="266.61" r="0.85" fill="#1877c9"/>
<circle cx="58.97" cy="258.23" r="0.85" fill="#1877c9"/>
<circle cx="61.55" cy="253.73" r="0.85" fill="#1877c9"/>
<circle cx="64.13" cy="230.54" r="0.85" fill="#1877c9"/>
<circle cx="66.71" cy="213.29" r="0.85" fill="#1877c9"/>
<circle cx="69.29" cy="208.10" r="0.85" fill="#1877c9"/>
<circle cx="71.87" cy="213.91" r="0.85" fill="#1877c9"/>
<circle cx="74.45" cy="227.94" r="0.85" fill="#1877c9"/>
<circle cx="77.03" cy="218.11" r="0.85" fill="#1877c9"/>
<circle cx="79.61" cy="207.59" r="0.85" fill="#1877c9"/>
<circle cx="82.20" cy="227.27" r="0.85" fill="#1877c9"/>
<circle cx="84.78" cy="201.05" r="0.85" fill="#1877c9"/>
<circle cx="87.36" cy="214.79" r="0.85" fill="#1877c9"/>
<circle cx="89.94" cy="259.57" r="0.85" fill="#1877c9"/>
<circle cx="92.52" cy="189.99" r="0.85" fill="#1877c9"/>
<circle cx="95.10" cy="205.71" r="0.85" fill="#1877c9"/>
<circle cx="97.68" cy="268.27" r="0.85" fill="#1877c9"/>
<circle cx="100.26" cy="265.59" r="0.85" fill="#1877c9"/>
<circle cx="102.84" cy="242.67" r="0.85" fill="#1877c9"/>
<circle cx="105.43" cy="241.17" r="0.85" fill="#1877c9"/>
<circle cx="108.01" cy="243.18" r="0.85" fill="#1877c9"/>
<circle cx="110.59" cy="233.80" r="0.85" fill="#1877c9"/>
<circle cx="113.17" cy="305.28" r="0.85" fill="#1877c9"/>
<circle cx="115.75" cy="261.92" r="0.85" fill="#1877c9"/>
<circle cx="118.33" cy="185.15" r="0.85" fill="#1877c9"/>
<circle cx="120.91" cy="189.00" r="0.85" fill="#1877c9"/>
<circle cx="123.49" cy="185.15" r="0.85" fill="#1877c9"/>
<circle cx="126.07" cy="216.26" r="0.85" fill="#1877c9"/>
<circle cx="128.65" cy="252.23" r="0.85" fill="#1877c9"/>
<circle cx="131.23" cy="239.83" r="0.85" fill="#1877c9"/>
<circle cx="133.82" cy="236.83" r="0.85" fill="#1877c9"/>
<circle cx="136.40" cy="200.86" r="0.85" fill="#1877c9"/>
<circle cx="138.98" cy="197.36" r="0.85" fill="#1877c9"/>
<circle cx="141.56" cy="191.49" r="0.85" fill="#1877c9"/>
<circle cx="144.14" cy="194.17" r="0.85" fill="#1877c9"/>
<circle cx="146.72" cy="195.03" r="0.85" fill="#1877c9"/>
<circle cx="149.30" cy="227.14" r="0.85" fill="#1877c9"/>
<circle cx="151.88" cy="250.73" r="0.85" fill="#1877c9"/>
<circle cx="154.46" cy="212.76" r="0.85" fill="#1877c9"/>
<circle cx="157.04" cy="200.38" r="0.85" fill="#1877c9"/>
<circle cx="159.63" cy="188.49" r="0.85" fill="#1877c9"/>
<circle cx="162.21" cy="187.66" r="0.85" fill="#1877c9"/>
<circle cx="164.79" cy="198.03" r="0.85" fill="#1877c9"/>
<circle cx="167.37" cy="197.54" r="0.85" fill="#1877c9"/>
<circle cx="169.95" cy="193.18" r="0.85" fill="#1877c9"/>
<circle cx="172.53" cy="191.17" r="0.85" fill="#1877c9"/>
<circle cx="175.11" cy="206.41" r="0.85" fill="#1877c9"/>
<circle cx="177.69" cy="214.76" r="0.85" fill="#1877c9"/>
<circle cx="180.27" cy="197.54" r="0.85" fill="#1877c9"/>
<circle cx="182.85" cy="199.53" r="0.85" fill="#1877c9"/>
<circle cx="185.44" cy="203.22" r="0.85" fill="#1877c9"/>
<circle cx="188.02" cy="196.18" r="0.85" fill="#1877c9"/>
<circle cx="190.60" cy="224.48" r="0.85" fill="#1877c9"/>
<circle cx="193.18" cy="215.59" r="0.85" fill="#1877c9"/>
<circle cx="195.76" cy="202.55" r="0.85" fill="#1877c9"/>
<circle cx="198.34" cy="193.18" r="0.85" fill="#1877c9"/>
<circle cx="200.92" cy="198.54" r="0.85" fill="#1877c9"/>
<circle cx="203.50" cy="202.39" r="0.85" fill="#1877c9"/>
<circle cx="206.08" cy="196.69" r="0.85" fill="#1877c9"/>
<circle cx="208.66" cy="203.54" r="0.85" fill="#1877c9"/>
<circle cx="211.25" cy="212.92" r="0.85" fill="#1877c9"/>
<circle cx="213.83" cy="222.13" r="0.85" fill="#1877c9"/>
<circle cx="216.41" cy="241.17" r="0.85" fill="#1877c9"/>
<circle cx="218.99" cy="261.44" r="0.85" fill="#1877c9"/>
<circle cx="221.57" cy="280.86" r="0.85" fill="#1877c9"/>
<circle cx="224.15" cy="285.22" r="0.85" fill="#1877c9"/>
<circle cx="226.73" cy="259.59" r="0.85" fill="#1877c9"/>
<circle cx="229.31" cy="242.19" r="0.85" fill="#1877c9"/>
<circle cx="231.89" cy="242.51" r="0.85" fill="#1877c9"/>
<circle cx="234.47" cy="246.20" r="0.85" fill="#1877c9"/>
<circle cx="237.06" cy="248.72" r="0.85" fill="#1877c9"/>
<circle cx="239.64" cy="245.53" r="0.85" fill="#1877c9"/>
<circle cx="242.22" cy="272.39" r="0.85" fill="#1877c9"/>
<circle cx="244.80" cy="282.20" r="0.85" fill="#1877c9"/>
<circle cx="43.48" cy="267.28" r="0.8" fill="#f0a51e"/>
<circle cx="46.06" cy="266.61" r="0.8" fill="#f0a51e"/>
<circle cx="48.64" cy="259.25" r="0.8" fill="#f0a51e"/>
<circle cx="51.22" cy="263.58" r="0.8" fill="#f0a51e"/>
<circle cx="53.80" cy="254.88" r="0.8" fill="#f0a51e"/>
<circle cx="56.39" cy="243.50" r="0.8" fill="#f0a51e"/>
<circle cx="58.97" cy="262.08" r="0.8" fill="#f0a51e"/>
<circle cx="61.55" cy="251.88" r="0.8" fill="#f0a51e"/>
<circle cx="64.13" cy="226.09" r="0.8" fill="#f0a51e"/>
<circle cx="66.71" cy="228.10" r="0.8" fill="#f0a51e"/>
<circle cx="69.29" cy="211.36" r="0.8" fill="#f0a51e"/>
<circle cx="71.87" cy="226.09" r="0.8" fill="#f0a51e"/>
<circle cx="74.45" cy="220.74" r="0.8" fill="#f0a51e"/>
<circle cx="77.03" cy="229.63" r="0.8" fill="#f0a51e"/>
<circle cx="226.73" cy="247.52" r="0.8" fill="#f0a51e"/>
<circle cx="229.31" cy="246.52" r="0.8" fill="#f0a51e"/>
<circle cx="231.89" cy="242.51" r="0.8" fill="#f0a51e"/>
<circle cx="234.47" cy="246.18" r="0.8" fill="#f0a51e"/>
<circle cx="237.06" cy="243.18" r="0.8" fill="#f0a51e"/>
<circle cx="239.64" cy="242.16" r="0.8" fill="#f0a51e"/>
<text transform="translate(143.40,176.35) rotate(0.1) scale(1,1.07)" text-anchor="middle" class="tt">Hybrid Prediction Model - TU</text>
<text transform="translate(140.50,327.00) rotate(0.1)" text-anchor="middle" class="lb">Days</text>
<text transform="translate(11.50,244.75) rotate(-90)" text-anchor="middle" class="lb">GHI</text>
<rect x="219.60" y="180.60" width="33.80" height="21.10" fill="#fff" stroke="#d9d9d9" stroke-width="0.6"/>
<circle cx="223.70" cy="184.40" r="0.8" fill="#1877c9"/>
<circle cx="223.70" cy="191.20" r="0.8" fill="#f0a51e"/>
<line x1="219.90" y1="198.00" x2="226.70" y2="198.00" stroke="#f0a898" stroke-width="0.8"/>
<text transform="translate(227.60,186.20) rotate(0.1)" class="lg">True</text>
<text transform="translate(227.60,193.30) rotate(0.1)" class="lg">Predicted</text>
<text transform="translate(227.60,200.10) rotate(0.1)" class="lg">Errors</text>
<line x1="329.60" y1="179.80" x2="329.60" y2="311.30" stroke="#f3f3f3" stroke-width="0.6"/>
<line x1="355.41" y1="179.80" x2="355.41" y2="311.30" stroke="#f3f3f3" stroke-width="0.6"/>
<line x1="381.22" y1="179.80" x2="381.22" y2="311.30" stroke="#f3f3f3" stroke-width="0.6"/>
<line x1="407.03" y1="179.80" x2="407.03" y2="311.30" stroke="#f3f3f3" stroke-width="0.6"/>
<line x1="432.84" y1="179.80" x2="432.84" y2="311.30" stroke="#f3f3f3" stroke-width="0.6"/>
<line x1="458.65" y1="179.80" x2="458.65" y2="311.30" stroke="#f3f3f3" stroke-width="0.6"/>
<line x1="484.46" y1="179.80" x2="484.46" y2="311.30" stroke="#f3f3f3" stroke-width="0.6"/>
<line x1="510.27" y1="179.80" x2="510.27" y2="311.30" stroke="#f3f3f3" stroke-width="0.6"/>
<line x1="536.08" y1="179.80" x2="536.08" y2="311.30" stroke="#f3f3f3" stroke-width="0.6"/>
<line x1="322.20" y1="307.61" x2="543.60" y2="307.61" stroke="#f3f3f3" stroke-width="0.6"/>
<line x1="322.20" y1="294.22" x2="543.60" y2="294.22" stroke="#f3f3f3" stroke-width="0.6"/>
<line x1="322.20" y1="280.83" x2="543.60" y2="280.83" stroke="#f3f3f3" stroke-width="0.6"/>
<line x1="322.20" y1="267.44" x2="543.60" y2="267.44" stroke="#f3f3f3" stroke-width="0.6"/>
<line x1="322.20" y1="254.05" x2="543.60" y2="254.05" stroke="#f3f3f3" stroke-width="0.6"/>
<line x1="322.20" y1="240.66" x2="543.60" y2="240.66" stroke="#f3f3f3" stroke-width="0.6"/>
<line x1="322.20" y1="227.27" x2="543.60" y2="227.27" stroke="#f3f3f3" stroke-width="0.6"/>
<line x1="322.20" y1="213.88" x2="543.60" y2="213.88" stroke="#f3f3f3" stroke-width="0.6"/>
<line x1="322.20" y1="200.49" x2="543.60" y2="200.49" stroke="#f3f3f3" stroke-width="0.6"/>
<line x1="322.20" y1="187.10" x2="543.60" y2="187.10" stroke="#f3f3f3" stroke-width="0.6"/>
<path d="M322.20 179.80V311.30H543.60" fill="none" stroke="#cbcbcb" stroke-width="0.7"/>
<line x1="329.60" y1="311.30" x2="329.60" y2="309.50" stroke="#cbcbcb" stroke-width="0.6"/>
<text transform="translate(329.60,319.60) rotate(0.1)" text-anchor="middle" class="tk">0</text>
<line x1="355.41" y1="311.30" x2="355.41" y2="309.50" stroke="#cbcbcb" stroke-width="0.6"/>
<text transform="translate(355.41,319.60) rotate(0.1)" text-anchor="middle" class="tk">10</text>
<line x1="381.22" y1="311.30" x2="381.22" y2="309.50" stroke="#cbcbcb" stroke-width="0.6"/>
<text transform="translate(381.22,319.60) rotate(0.1)" text-anchor="middle" class="tk">20</text>
<line x1="407.03" y1="311.30" x2="407.03" y2="309.50" stroke="#cbcbcb" stroke-width="0.6"/>
<text transform="translate(407.03,319.60) rotate(0.1)" text-anchor="middle" class="tk">30</text>
<line x1="432.84" y1="311.30" x2="432.84" y2="309.50" stroke="#cbcbcb" stroke-width="0.6"/>
<text transform="translate(432.84,319.60) rotate(0.1)" text-anchor="middle" class="tk">40</text>
<line x1="458.65" y1="311.30" x2="458.65" y2="309.50" stroke="#cbcbcb" stroke-width="0.6"/>
<text transform="translate(458.65,319.60) rotate(0.1)" text-anchor="middle" class="tk">50</text>
<line x1="484.46" y1="311.30" x2="484.46" y2="309.50" stroke="#cbcbcb" stroke-width="0.6"/>
<text transform="translate(484.46,319.60) rotate(0.1)" text-anchor="middle" class="tk">60</text>
<line x1="510.27" y1="311.30" x2="510.27" y2="309.50" stroke="#cbcbcb" stroke-width="0.6"/>
<text transform="translate(510.27,319.60) rotate(0.1)" text-anchor="middle" class="tk">70</text>
<line x1="536.08" y1="311.30" x2="536.08" y2="309.50" stroke="#cbcbcb" stroke-width="0.6"/>
<text transform="translate(536.08,319.60) rotate(0.1)" text-anchor="middle" class="tk">80</text>
<line x1="322.20" y1="307.61" x2="324.00" y2="307.61" stroke="#cbcbcb" stroke-width="0.6"/>
<text transform="translate(320.70,309.91) rotate(0.1)" text-anchor="end" class="tk">4000</text>
<line x1="322.20" y1="294.22" x2="324.00" y2="294.22" stroke="#cbcbcb" stroke-width="0.6"/>
<text transform="translate(320.70,296.52) rotate(0.1)" text-anchor="end" class="tk">4500</text>
<line x1="322.20" y1="280.83" x2="324.00" y2="280.83" stroke="#cbcbcb" stroke-width="0.6"/>
<text transform="translate(320.70,283.13) rotate(0.1)" text-anchor="end" class="tk">5000</text>
<line x1="322.20" y1="267.44" x2="324.00" y2="267.44" stroke="#cbcbcb" stroke-width="0.6"/>
<text transform="translate(320.70,269.74) rotate(0.1)" text-anchor="end" class="tk">5500</text>
<line x1="322.20" y1="254.05" x2="324.00" y2="254.05" stroke="#cbcbcb" stroke-width="0.6"/>
<text transform="translate(320.70,256.35) rotate(0.1)" text-anchor="end" class="tk">6000</text>
<line x1="322.20" y1="240.66" x2="324.00" y2="240.66" stroke="#cbcbcb" stroke-width="0.6"/>
<text transform="translate(320.70,242.96) rotate(0.1)" text-anchor="end" class="tk">6500</text>
<line x1="322.20" y1="227.27" x2="324.00" y2="227.27" stroke="#cbcbcb" stroke-width="0.6"/>
<text transform="translate(320.70,229.57) rotate(0.1)" text-anchor="end" class="tk">7000</text>
<line x1="322.20" y1="213.88" x2="324.00" y2="213.88" stroke="#cbcbcb" stroke-width="0.6"/>
<text transform="translate(320.70,216.18) rotate(0.1)" text-anchor="end" class="tk">7500</text>
<line x1="322.20" y1="200.49" x2="324.00" y2="200.49" stroke="#cbcbcb" stroke-width="0.6"/>
<text transform="translate(320.70,202.79) rotate(0.1)" text-anchor="end" class="tk">8000</text>
<line x1="322.20" y1="187.10" x2="324.00" y2="187.10" stroke="#cbcbcb" stroke-width="0.6"/>
<text transform="translate(320.70,189.40) rotate(0.1)" text-anchor="end" class="tk">8500</text>
<line x1="332.18" y1="267.60" x2="332.18" y2="268.27" stroke="#f6c8b3" stroke-width="1"/>
<line x1="334.76" y1="269.96" x2="334.76" y2="261.92" stroke="#f6c8b3" stroke-width="1"/>
<line x1="337.34" y1="280.99" x2="337.34" y2="273.28" stroke="#f6c8b3" stroke-width="1"/>
<line x1="339.92" y1="263.42" x2="339.92" y2="268.27" stroke="#f6c8b3" stroke-width="1"/>
<line x1="342.50" y1="244.36" x2="342.50" y2="250.73" stroke="#f6c8b3" stroke-width="1"/>
<line x1="345.09" y1="266.61" x2="345.09" y2="243.69" stroke="#f6c8b3" stroke-width="1"/>
<line x1="347.67" y1="258.23" x2="347.67" y2="261.58" stroke="#f6c8b3" stroke-width="1"/>
<line x1="350.25" y1="253.73" x2="350.25" y2="258.74" stroke="#f6c8b3" stroke-width="1"/>
<line x1="352.83" y1="230.54" x2="352.83" y2="233.16" stroke="#f6c8b3" stroke-width="1"/>
<line x1="355.41" y1="213.29" x2="355.41" y2="234.34" stroke="#f6c8b3" stroke-width="1"/>
<line x1="357.99" y1="208.10" x2="357.99" y2="217.66" stroke="#f6c8b3" stroke-width="1"/>
<line x1="360.57" y1="213.91" x2="360.57" y2="217.33" stroke="#f6c8b3" stroke-width="1"/>
<line x1="363.15" y1="227.94" x2="363.15" y2="228.07" stroke="#f6c8b3" stroke-width="1"/>
<line x1="365.73" y1="218.11" x2="365.73" y2="221.86" stroke="#f6c8b3" stroke-width="1"/>
<line x1="368.31" y1="207.59" x2="368.31" y2="209.27" stroke="#f6c8b3" stroke-width="1"/>
<line x1="370.90" y1="227.27" x2="370.90" y2="220.17" stroke="#f6c8b3" stroke-width="1"/>
<line x1="373.48" y1="201.05" x2="373.48" y2="223.04" stroke="#f6c8b3" stroke-width="1"/>
<line x1="376.06" y1="214.79" x2="376.06" y2="200.36" stroke="#f6c8b3" stroke-width="1"/>
<line x1="378.64" y1="259.57" x2="378.64" y2="233.67" stroke="#f6c8b3" stroke-width="1"/>
<line x1="381.22" y1="189.99" x2="381.22" y2="236.51" stroke="#f6c8b3" stroke-width="1"/>
<line x1="383.80" y1="205.71" x2="383.80" y2="219.66" stroke="#f6c8b3" stroke-width="1"/>
<line x1="386.38" y1="268.27" x2="386.38" y2="207.59" stroke="#f6c8b3" stroke-width="1"/>
<line x1="388.96" y1="265.59" x2="388.96" y2="254.05" stroke="#f6c8b3" stroke-width="1"/>
<line x1="391.54" y1="242.67" x2="391.54" y2="250.73" stroke="#f6c8b3" stroke-width="1"/>
<line x1="394.12" y1="241.17" x2="394.12" y2="244.36" stroke="#f6c8b3" stroke-width="1"/>
<line x1="396.71" y1="243.18" x2="396.71" y2="248.53" stroke="#f6c8b3" stroke-width="1"/>
<line x1="399.29" y1="233.80" x2="399.29" y2="231.42" stroke="#f6c8b3" stroke-width="1"/>
<line x1="401.87" y1="305.28" x2="401.87" y2="236.19" stroke="#f6c8b3" stroke-width="1"/>
<line x1="404.45" y1="261.92" x2="404.45" y2="261.92" stroke="#f6c8b3" stroke-width="1"/>
<line x1="407.03" y1="185.15" x2="407.03" y2="218.51" stroke="#f6c8b3" stroke-width="1"/>
<line x1="409.61" y1="189.00" x2="409.61" y2="208.77" stroke="#f6c8b3" stroke-width="1"/>
<line x1="412.19" y1="185.15" x2="412.19" y2="203.06" stroke="#f6c8b3" stroke-width="1"/>
<line x1="414.77" y1="216.26" x2="414.77" y2="197.84" stroke="#f6c8b3" stroke-width="1"/>
<line x1="417.35" y1="252.23" x2="417.35" y2="238.20" stroke="#f6c8b3" stroke-width="1"/>
<line x1="419.93" y1="239.83" x2="419.93" y2="239.35" stroke="#f6c8b3" stroke-width="1"/>
<line x1="422.52" y1="236.83" x2="422.52" y2="220.17" stroke="#f6c8b3" stroke-width="1"/>
<line x1="425.10" y1="200.86" x2="425.10" y2="224.43" stroke="#f6c8b3" stroke-width="1"/>
<line x1="427.68" y1="197.36" x2="427.68" y2="199.53" stroke="#f6c8b3" stroke-width="1"/>
<line x1="430.26" y1="191.49" x2="430.26" y2="202.55" stroke="#f6c8b3" stroke-width="1"/>
<line x1="432.84" y1="194.17" x2="432.84" y2="198.35" stroke="#f6c8b3" stroke-width="1"/>
<line x1="435.42" y1="195.03" x2="435.42" y2="197.52" stroke="#f6c8b3" stroke-width="1"/>
<line x1="438.00" y1="227.14" x2="438.00" y2="242.03" stroke="#f6c8b3" stroke-width="1"/>
<line x1="440.58" y1="250.73" x2="440.58" y2="223.87" stroke="#f6c8b3" stroke-width="1"/>
<line x1="443.16" y1="212.76" x2="443.16" y2="218.00" stroke="#f6c8b3" stroke-width="1"/>
<line x1="445.74" y1="200.38" x2="445.74" y2="218.16" stroke="#f6c8b3" stroke-width="1"/>
<line x1="448.33" y1="188.49" x2="448.33" y2="194.14" stroke="#f6c8b3" stroke-width="1"/>
<line x1="450.91" y1="187.66" x2="450.91" y2="190.29" stroke="#f6c8b3" stroke-width="1"/>
<line x1="453.49" y1="198.03" x2="453.49" y2="190.45" stroke="#f6c8b3" stroke-width="1"/>
<line x1="456.07" y1="197.54" x2="456.07" y2="198.19" stroke="#f6c8b3" stroke-width="1"/>
<line x1="458.65" y1="193.18" x2="458.65" y2="192.99" stroke="#f6c8b3" stroke-width="1"/>
<line x1="461.23" y1="191.17" x2="461.23" y2="192.48" stroke="#f6c8b3" stroke-width="1"/>
<line x1="463.81" y1="206.41" x2="463.81" y2="216.48" stroke="#f6c8b3" stroke-width="1"/>
<line x1="466.39" y1="214.76" x2="466.39" y2="214.98" stroke="#f6c8b3" stroke-width="1"/>
<line x1="468.97" y1="197.54" x2="468.97" y2="200.54" stroke="#f6c8b3" stroke-width="1"/>
<line x1="471.55" y1="199.53" x2="471.55" y2="202.55" stroke="#f6c8b3" stroke-width="1"/>
<line x1="474.14" y1="203.22" x2="474.14" y2="200.03" stroke="#f6c8b3" stroke-width="1"/>
<line x1="476.72" y1="196.18" x2="476.72" y2="203.73" stroke="#f6c8b3" stroke-width="1"/>
<line x1="479.30" y1="224.48" x2="479.30" y2="211.79" stroke="#f6c8b3" stroke-width="1"/>
<line x1="481.88" y1="215.59" x2="481.88" y2="254.88" stroke="#f6c8b3" stroke-width="1"/>
<line x1="484.46" y1="202.55" x2="484.46" y2="203.73" stroke="#f6c8b3" stroke-width="1"/>
<line x1="487.04" y1="193.18" x2="487.04" y2="204.24" stroke="#f6c8b3" stroke-width="1"/>
<line x1="489.62" y1="198.54" x2="489.62" y2="198.35" stroke="#f6c8b3" stroke-width="1"/>
<line x1="492.20" y1="202.39" x2="492.20" y2="198.70" stroke="#f6c8b3" stroke-width="1"/>
<line x1="494.78" y1="196.69" x2="494.78" y2="206.76" stroke="#f6c8b3" stroke-width="1"/>
<line x1="497.36" y1="203.54" x2="497.36" y2="201.72" stroke="#f6c8b3" stroke-width="1"/>
<line x1="499.95" y1="212.92" x2="499.95" y2="221.86" stroke="#f6c8b3" stroke-width="1"/>
<line x1="502.53" y1="222.13" x2="502.53" y2="209.27" stroke="#f6c8b3" stroke-width="1"/>
<line x1="505.11" y1="241.17" x2="505.11" y2="253.57" stroke="#f6c8b3" stroke-width="1"/>
<line x1="507.69" y1="261.44" x2="507.69" y2="243.20" stroke="#f6c8b3" stroke-width="1"/>
<line x1="510.27" y1="280.86" x2="510.27" y2="253.57" stroke="#f6c8b3" stroke-width="1"/>
<line x1="512.85" y1="285.22" x2="512.85" y2="259.57" stroke="#f6c8b3" stroke-width="1"/>
<line x1="515.43" y1="259.59" x2="515.43" y2="253.73" stroke="#f6c8b3" stroke-width="1"/>
<line x1="518.01" y1="242.19" x2="518.01" y2="256.57" stroke="#f6c8b3" stroke-width="1"/>
<line x1="520.59" y1="242.51" x2="520.59" y2="244.36" stroke="#f6c8b3" stroke-width="1"/>
<line x1="523.17" y1="246.20" x2="523.17" y2="251.88" stroke="#f6c8b3" stroke-width="1"/>
<line x1="525.76" y1="248.72" x2="525.76" y2="243.69" stroke="#f6c8b3" stroke-width="1"/>
<line x1="528.34" y1="245.53" x2="528.34" y2="241.52" stroke="#f6c8b3" stroke-width="1"/>
<line x1="530.92" y1="272.39" x2="530.92" y2="271.59" stroke="#f6c8b3" stroke-width="1"/>
<line x1="533.50" y1="282.20" x2="533.50" y2="272.45" stroke="#f6c8b3" stroke-width="1"/>
<circle cx="332.18" cy="267.60" r="0.85" fill="#1877c9"/>
<circle cx="334.76" cy="269.96" r="0.85" fill="#1877c9"/>
<circle cx="337.34" cy="280.99" r="0.85" fill="#1877c9"/>
<circle cx="339.92" cy="263.42" r="0.85" fill="#1877c9"/>
<circle cx="342.50" cy="244.36" r="0.85" fill="#1877c9"/>
<circle cx="345.09" cy="266.61" r="0.85" fill="#1877c9"/>
<circle cx="347.67" cy="258.23" r="0.85" fill="#1877c9"/>
<circle cx="350.25" cy="253.73" r="0.85" fill="#1877c9"/>
<circle cx="352.83" cy="230.54" r="0.85" fill="#1877c9"/>
<circle cx="355.41" cy="213.29" r="0.85" fill="#1877c9"/>
<circle cx="357.99" cy="208.10" r="0.85" fill="#1877c9"/>
<circle cx="360.57" cy="213.91" r="0.85" fill="#1877c9"/>
<circle cx="363.15" cy="227.94" r="0.85" fill="#1877c9"/>
<circle cx="365.73" cy="218.11" r="0.85" fill="#1877c9"/>
<circle cx="368.31" cy="207.59" r="0.85" fill="#1877c9"/>
<circle cx="370.90" cy="227.27" r="0.85" fill="#1877c9"/>
<circle cx="373.48" cy="201.05" r="0.85" fill="#1877c9"/>
<circle cx="376.06" cy="214.79" r="0.85" fill="#1877c9"/>
<circle cx="378.64" cy="259.57" r="0.85" fill="#1877c9"/>
<circle cx="381.22" cy="189.99" r="0.85" fill="#1877c9"/>
<circle cx="383.80" cy="205.71" r="0.85" fill="#1877c9"/>
<circle cx="386.38" cy="268.27" r="0.85" fill="#1877c9"/>
<circle cx="388.96" cy="265.59" r="0.85" fill="#1877c9"/>
<circle cx="391.54" cy="242.67" r="0.85" fill="#1877c9"/>
<circle cx="394.12" cy="241.17" r="0.85" fill="#1877c9"/>
<circle cx="396.71" cy="243.18" r="0.85" fill="#1877c9"/>
<circle cx="399.29" cy="233.80" r="0.85" fill="#1877c9"/>
<circle cx="401.87" cy="305.28" r="0.85" fill="#1877c9"/>
<circle cx="404.45" cy="261.92" r="0.85" fill="#1877c9"/>
<circle cx="407.03" cy="185.15" r="0.85" fill="#1877c9"/>
<circle cx="409.61" cy="189.00" r="0.85" fill="#1877c9"/>
<circle cx="412.19" cy="185.15" r="0.85" fill="#1877c9"/>
<circle cx="414.77" cy="216.26" r="0.85" fill="#1877c9"/>
<circle cx="417.35" cy="252.23" r="0.85" fill="#1877c9"/>
<circle cx="419.93" cy="239.83" r="0.85" fill="#1877c9"/>
<circle cx="422.52" cy="236.83" r="0.85" fill="#1877c9"/>
<circle cx="425.10" cy="200.86" r="0.85" fill="#1877c9"/>
<circle cx="427.68" cy="197.36" r="0.85" fill="#1877c9"/>
<circle cx="430.26" cy="191.49" r="0.85" fill="#1877c9"/>
<circle cx="432.84" cy="194.17" r="0.85" fill="#1877c9"/>
<circle cx="435.42" cy="195.03" r="0.85" fill="#1877c9"/>
<circle cx="438.00" cy="227.14" r="0.85" fill="#1877c9"/>
<circle cx="440.58" cy="250.73" r="0.85" fill="#1877c9"/>
<circle cx="443.16" cy="212.76" r="0.85" fill="#1877c9"/>
<circle cx="445.74" cy="200.38" r="0.85" fill="#1877c9"/>
<circle cx="448.33" cy="188.49" r="0.85" fill="#1877c9"/>
<circle cx="450.91" cy="187.66" r="0.85" fill="#1877c9"/>
<circle cx="453.49" cy="198.03" r="0.85" fill="#1877c9"/>
<circle cx="456.07" cy="197.54" r="0.85" fill="#1877c9"/>
<circle cx="458.65" cy="193.18" r="0.85" fill="#1877c9"/>
<circle cx="461.23" cy="191.17" r="0.85" fill="#1877c9"/>
<circle cx="463.81" cy="206.41" r="0.85" fill="#1877c9"/>
<circle cx="466.39" cy="214.76" r="0.85" fill="#1877c9"/>
<circle cx="468.97" cy="197.54" r="0.85" fill="#1877c9"/>
<circle cx="471.55" cy="199.53" r="0.85" fill="#1877c9"/>
<circle cx="474.14" cy="203.22" r="0.85" fill="#1877c9"/>
<circle cx="476.72" cy="196.18" r="0.85" fill="#1877c9"/>
<circle cx="479.30" cy="224.48" r="0.85" fill="#1877c9"/>
<circle cx="481.88" cy="215.59" r="0.85" fill="#1877c9"/>
<circle cx="484.46" cy="202.55" r="0.85" fill="#1877c9"/>
<circle cx="487.04" cy="193.18" r="0.85" fill="#1877c9"/>
<circle cx="489.62" cy="198.54" r="0.85" fill="#1877c9"/>
<circle cx="492.20" cy="202.39" r="0.85" fill="#1877c9"/>
<circle cx="494.78" cy="196.69" r="0.85" fill="#1877c9"/>
<circle cx="497.36" cy="203.54" r="0.85" fill="#1877c9"/>
<circle cx="499.95" cy="212.92" r="0.85" fill="#1877c9"/>
<circle cx="502.53" cy="222.13" r="0.85" fill="#1877c9"/>
<circle cx="505.11" cy="241.17" r="0.85" fill="#1877c9"/>
<circle cx="507.69" cy="261.44" r="0.85" fill="#1877c9"/>
<circle cx="510.27" cy="280.86" r="0.85" fill="#1877c9"/>
<circle cx="512.85" cy="285.22" r="0.85" fill="#1877c9"/>
<circle cx="515.43" cy="259.59" r="0.85" fill="#1877c9"/>
<circle cx="518.01" cy="242.19" r="0.85" fill="#1877c9"/>
<circle cx="520.59" cy="242.51" r="0.85" fill="#1877c9"/>
<circle cx="523.17" cy="246.20" r="0.85" fill="#1877c9"/>
<circle cx="525.76" cy="248.72" r="0.85" fill="#1877c9"/>
<circle cx="528.34" cy="245.53" r="0.85" fill="#1877c9"/>
<circle cx="530.92" cy="272.39" r="0.85" fill="#1877c9"/>
<circle cx="533.50" cy="282.20" r="0.85" fill="#1877c9"/>
<circle cx="332.18" cy="268.27" r="0.8" fill="#f0a51e"/>
<circle cx="334.76" cy="261.92" r="0.8" fill="#f0a51e"/>
<circle cx="337.34" cy="273.28" r="0.8" fill="#f0a51e"/>
<circle cx="339.92" cy="268.27" r="0.8" fill="#f0a51e"/>
<circle cx="342.50" cy="250.73" r="0.8" fill="#f0a51e"/>
<circle cx="345.09" cy="243.69" r="0.8" fill="#f0a51e"/>
<circle cx="347.67" cy="261.58" r="0.8" fill="#f0a51e"/>
<circle cx="350.25" cy="258.74" r="0.8" fill="#f0a51e"/>
<circle cx="352.83" cy="233.16" r="0.8" fill="#f0a51e"/>
<circle cx="355.41" cy="234.34" r="0.8" fill="#f0a51e"/>
<circle cx="357.99" cy="217.66" r="0.8" fill="#f0a51e"/>
<circle cx="360.57" cy="217.33" r="0.8" fill="#f0a51e"/>
<circle cx="363.15" cy="228.07" r="0.8" fill="#f0a51e"/>
<circle cx="365.73" cy="221.86" r="0.8" fill="#f0a51e"/>
<circle cx="368.31" cy="209.27" r="0.8" fill="#f0a51e"/>
<circle cx="370.90" cy="220.17" r="0.8" fill="#f0a51e"/>
<circle cx="373.48" cy="223.04" r="0.8" fill="#f0a51e"/>
<circle cx="376.06" cy="200.36" r="0.8" fill="#f0a51e"/>
<circle cx="378.64" cy="233.67" r="0.8" fill="#f0a51e"/>
<circle cx="381.22" cy="236.51" r="0.8" fill="#f0a51e"/>
<circle cx="383.80" cy="219.66" r="0.8" fill="#f0a51e"/>
<circle cx="386.38" cy="207.59" r="0.8" fill="#f0a51e"/>
<circle cx="388.96" cy="254.05" r="0.8" fill="#f0a51e"/>
<circle cx="391.54" cy="250.73" r="0.8" fill="#f0a51e"/>
<circle cx="394.12" cy="244.36" r="0.8" fill="#f0a51e"/>
<circle cx="396.71" cy="248.53" r="0.8" fill="#f0a51e"/>
<circle cx="399.29" cy="231.42" r="0.8" fill="#f0a51e"/>
<circle cx="401.87" cy="236.19" r="0.8" fill="#f0a51e"/>
<circle cx="404.45" cy="261.92" r="0.8" fill="#f0a51e"/>
<circle cx="407.03" cy="218.51" r="0.8" fill="#f0a51e"/>
<circle cx="409.61" cy="208.77" r="0.8" fill="#f0a51e"/>
<circle cx="412.19" cy="203.06" r="0.8" fill="#f0a51e"/>
<circle cx="414.77" cy="197.84" r="0.8" fill="#f0a51e"/>
<circle cx="417.35" cy="238.20" r="0.8" fill="#f0a51e"/>
<circle cx="419.93" cy="239.35" r="0.8" fill="#f0a51e"/>
<circle cx="422.52" cy="220.17" r="0.8" fill="#f0a51e"/>
<circle cx="425.10" cy="224.43" r="0.8" fill="#f0a51e"/>
<circle cx="427.68" cy="199.53" r="0.8" fill="#f0a51e"/>
<circle cx="430.26" cy="202.55" r="0.8" fill="#f0a51e"/>
<circle cx="432.84" cy="198.35" r="0.8" fill="#f0a51e"/>
<circle cx="435.42" cy="197.52" r="0.8" fill="#f0a51e"/>
<circle cx="438.00" cy="242.03" r="0.8" fill="#f0a51e"/>
<circle cx="440.58" cy="223.87" r="0.8" fill="#f0a51e"/>
<circle cx="443.16" cy="218.00" r="0.8" fill="#f0a51e"/>
<circle cx="445.74" cy="218.16" r="0.8" fill="#f0a51e"/>
<circle cx="448.33" cy="194.14" r="0.8" fill="#f0a51e"/>
<circle cx="450.91" cy="190.29" r="0.8" fill="#f0a51e"/>
<circle cx="453.49" cy="190.45" r="0.8" fill="#f0a51e"/>
<circle cx="456.07" cy="198.19" r="0.8" fill="#f0a51e"/>
<circle cx="458.65" cy="192.99" r="0.8" fill="#f0a51e"/>
<circle cx="461.23" cy="192.48" r="0.8" fill="#f0a51e"/>
<circle cx="463.81" cy="216.48" r="0.8" fill="#f0a51e"/>
<circle cx="466.39" cy="214.98" r="0.8" fill="#f0a51e"/>
<circle cx="468.97" cy="200.54" r="0.8" fill="#f0a51e"/>
<circle cx="471.55" cy="202.55" r="0.8" fill="#f0a51e"/>
<circle cx="474.14" cy="200.03" r="0.8" fill="#f0a51e"/>
<circle cx="476.72" cy="203.73" r="0.8" fill="#f0a51e"/>
<circle cx="479.30" cy="211.79" r="0.8" fill="#f0a51e"/>
<circle cx="481.88" cy="254.88" r="0.8" fill="#f0a51e"/>
<circle cx="484.46" cy="203.73" r="0.8" fill="#f0a51e"/>
<circle cx="487.04" cy="204.24" r="0.8" fill="#f0a51e"/>
<circle cx="489.62" cy="198.35" r="0.8" fill="#f0a51e"/>
<circle cx="492.20" cy="198.70" r="0.8" fill="#f0a51e"/>
<circle cx="494.78" cy="206.76" r="0.8" fill="#f0a51e"/>
<circle cx="497.36" cy="201.72" r="0.8" fill="#f0a51e"/>
<circle cx="499.95" cy="221.86" r="0.8" fill="#f0a51e"/>
<circle cx="502.53" cy="209.27" r="0.8" fill="#f0a51e"/>
<circle cx="505.11" cy="253.57" r="0.8" fill="#f0a51e"/>
<circle cx="507.69" cy="243.20" r="0.8" fill="#f0a51e"/>
<circle cx="510.27" cy="253.57" r="0.8" fill="#f0a51e"/>
<circle cx="512.85" cy="259.57" r="0.8" fill="#f0a51e"/>
<circle cx="515.43" cy="253.73" r="0.8" fill="#f0a51e"/>
<circle cx="518.01" cy="256.57" r="0.8" fill="#f0a51e"/>
<circle cx="520.59" cy="244.36" r="0.8" fill="#f0a51e"/>
<circle cx="523.17" cy="251.88" r="0.8" fill="#f0a51e"/>
<circle cx="525.76" cy="243.69" r="0.8" fill="#f0a51e"/>
<circle cx="528.34" cy="241.52" r="0.8" fill="#f0a51e"/>
<circle cx="530.92" cy="271.59" r="0.8" fill="#f0a51e"/>
<circle cx="533.50" cy="272.45" r="0.8" fill="#f0a51e"/>
<text transform="translate(432.10,176.35) rotate(0.1) scale(1,1.07)" text-anchor="middle" class="tt">Hybrid Prediction Model with Feature Selection - TU</text>
<text transform="translate(429.20,327.00) rotate(0.1)" text-anchor="middle" class="lb">Days</text>
<text transform="translate(300.70,244.75) rotate(-90)" text-anchor="middle" class="lb">GHI</text>
<rect x="508.30" y="180.60" width="33.80" height="21.10" fill="#fff" stroke="#d9d9d9" stroke-width="0.6"/>
<circle cx="512.40" cy="184.40" r="0.8" fill="#1877c9"/>
<circle cx="512.40" cy="191.20" r="0.8" fill="#f0a51e"/>
<line x1="508.60" y1="198.00" x2="515.40" y2="198.00" stroke="#f0a898" stroke-width="0.8"/>
<text transform="translate(516.30,186.20) rotate(0.1)" class="lg">True</text>
<text transform="translate(516.30,193.30) rotate(0.1)" class="lg">Predicted</text>
<text transform="translate(516.30,200.10) rotate(0.1)" class="lg">Errors</text>
</svg>
</body></html>
